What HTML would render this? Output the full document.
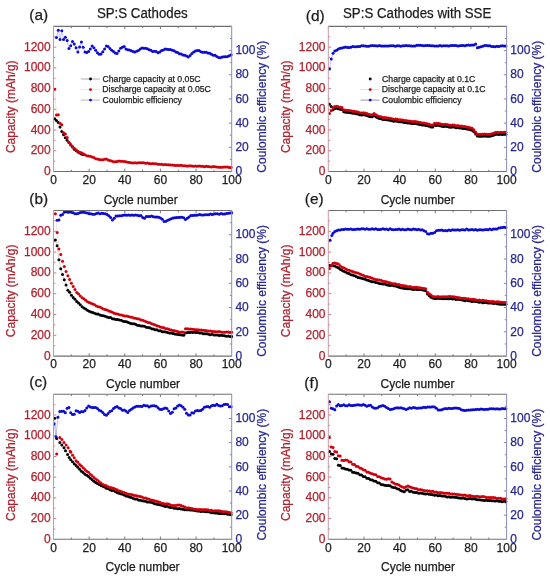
<!DOCTYPE html>
<html><head><meta charset="utf-8"><title>SP:S Cathodes</title>
<style>
html,body{margin:0;padding:0;background:#fff;}
svg{display:block;}
text{font-family:"Liberation Sans", Arial, sans-serif;stroke-width:0.25px;}
.tk{font-size:12px;}
.at{font-size:12px;}
</style></head><body>
<svg width="550" height="579" viewBox="0 0 550 579">
<rect width="550" height="579" fill="#fff"/>
<g fill="#1c1c1c">
<clipPath id="ca"><rect x="53.5" y="24.8" width="179.8" height="146.7"/></clipPath>
<path d="M71.32 171.5v-1.8M71.32 26.4v1.8M89.14 171.5v-2.8M89.14 26.4v2.8M106.96 171.5v-1.8M106.96 26.4v1.8M124.78 171.5v-2.8M124.78 26.4v2.8M142.6 171.5v-1.8M142.6 26.4v1.8M160.42 171.5v-2.8M160.42 26.4v2.8M178.24 171.5v-1.8M178.24 26.4v1.8M196.06 171.5v-2.8M196.06 26.4v2.8M213.88 171.5v-1.8M213.88 26.4v1.8" stroke="#555" stroke-width="0.8" fill="none"/>
<path d="M53.5 161.14h1.8M53.5 150.77h2.8M53.5 140.41h1.8M53.5 130.04h2.8M53.5 119.68h1.8M53.5 109.31h2.8M53.5 98.95h1.8M53.5 88.59h2.8M53.5 78.22h1.8M53.5 67.86h2.8M53.5 57.49h1.8M53.5 47.13h2.8M53.5 36.76h1.8" stroke="#b06070" stroke-width="0.8" fill="none"/>
<path d="M231.7 159.41h-1.8M231.7 147.32h-2.8M231.7 135.22h-1.8M231.7 123.13h-2.8M231.7 111.04h-1.8M231.7 98.95h-2.8M231.7 86.86h-1.8M231.7 74.77h-2.8M231.7 62.68h-1.8M231.7 50.58h-2.8M231.7 38.49h-1.8" stroke="#6060a8" stroke-width="0.8" fill="none"/>
<g clip-path="url(#ca)">
<polyline fill="none" stroke="#999" stroke-width="0.4" points="54.68,118.66 56.46,120.47 58.25,122.59 60.03,126.89 61.81,131.39 63.59,134.84 65.37,137.71 67.16,140.2 68.94,142.57 70.72,144.95 72.5,147.03 74.28,149.18 76.07,150.58 77.85,152.01 79.63,153.05 81.41,153.9 83.19,154.39"/>
<g fill="#000"><circle cx="54.68" cy="118.66" r="1.5"/><circle cx="56.46" cy="120.47" r="1.5"/><circle cx="58.25" cy="122.59" r="1.5"/><circle cx="60.03" cy="126.89" r="1.5"/><circle cx="61.81" cy="131.39" r="1.5"/><circle cx="63.59" cy="134.84" r="1.5"/><circle cx="65.37" cy="137.71" r="1.5"/><circle cx="67.16" cy="140.2" r="1.5"/><circle cx="68.94" cy="142.57" r="1.5"/><circle cx="70.72" cy="144.95" r="1.5"/><circle cx="72.5" cy="147.03" r="1.5"/><circle cx="74.28" cy="149.18" r="1.5"/><circle cx="76.07" cy="150.58" r="1.5"/><circle cx="77.85" cy="152.01" r="1.5"/><circle cx="79.63" cy="153.05" r="1.5"/><circle cx="81.41" cy="153.9" r="1.5"/><circle cx="83.19" cy="154.39" r="1.5"/></g>
<polyline fill="none" stroke="#f0b0b0" stroke-width="0.4" points="54.68,89.3 56.46,115.09 58.25,114.69 60.03,123.19 61.81,124.74 63.59,132.82 65.37,133.92 67.16,137.53 68.94,142.2 70.72,144.52 72.5,146.46 74.28,148.34 76.07,149.75 77.85,151.15 79.63,152.3 81.41,152.82 83.19,153.8 84.98,154.82 86.76,155.63 88.54,155.91 90.32,156.19 92.1,157.02 93.89,157.39 95.67,158.76 97.45,159.07 99.23,159.42 101.01,159.72 102.8,159.69 104.58,159.26 106.36,159.04 108.14,159.96 109.92,160.6 111.71,161.03 113.49,161.75 115.27,161.73 117.05,161.39 118.83,161.03 120.62,161.22 122.4,161.23 124.18,161.42 125.96,161.86 127.74,162.17 129.53,162.39 131.31,162.84 133.09,162.9 134.87,162.71 136.65,162.94 138.44,162.79 140.22,162.83 142,162.79 143.78,162.69 145.56,163.33 147.35,163.05 149.13,163.43 150.91,163.77 152.69,163.54 154.47,163.86 156.26,163.71 158.04,164.2 159.82,164.36 161.6,164.36 163.38,164.65 165.17,164.43 166.95,164.77 168.73,164.82 170.51,164.92 172.29,164.96 174.08,165.3 175.86,165.47 177.64,165.29 179.42,165.51 181.2,165.25 182.99,165.72 184.77,165.78 186.55,166.08 188.33,166.06 190.11,165.82 191.9,165.96 193.68,166.2 195.46,165.89 197.24,166.23 199.02,166.12 200.81,166.16 202.59,166.19 204.37,166.68 206.15,166.36 207.93,166.49 209.72,166.63 211.5,166.98 213.28,166.56 215.06,166.83 216.84,166.94 218.63,167.19 220.41,167.2 222.19,167.28 223.97,166.97 225.75,167.1 227.54,167.12 229.32,167.48 231.1,167.57"/>
<g fill="#d0000c"><circle cx="54.68" cy="89.3" r="1.5"/><circle cx="56.46" cy="115.09" r="1.5"/><circle cx="58.25" cy="114.69" r="1.5"/><circle cx="60.03" cy="123.19" r="1.5"/><circle cx="61.81" cy="124.74" r="1.5"/><circle cx="63.59" cy="132.82" r="1.5"/><circle cx="65.37" cy="133.92" r="1.5"/><circle cx="67.16" cy="137.53" r="1.5"/><circle cx="68.94" cy="142.2" r="1.5"/><circle cx="70.72" cy="144.52" r="1.5"/><circle cx="72.5" cy="146.46" r="1.5"/><circle cx="74.28" cy="148.34" r="1.5"/><circle cx="76.07" cy="149.75" r="1.5"/><circle cx="77.85" cy="151.15" r="1.5"/><circle cx="79.63" cy="152.3" r="1.5"/><circle cx="81.41" cy="152.82" r="1.5"/><circle cx="83.19" cy="153.8" r="1.5"/><circle cx="84.98" cy="154.82" r="1.5"/><circle cx="86.76" cy="155.63" r="1.5"/><circle cx="88.54" cy="155.91" r="1.5"/><circle cx="90.32" cy="156.19" r="1.5"/><circle cx="92.1" cy="157.02" r="1.5"/><circle cx="93.89" cy="157.39" r="1.5"/><circle cx="95.67" cy="158.76" r="1.5"/><circle cx="97.45" cy="159.07" r="1.5"/><circle cx="99.23" cy="159.42" r="1.5"/><circle cx="101.01" cy="159.72" r="1.5"/><circle cx="102.8" cy="159.69" r="1.5"/><circle cx="104.58" cy="159.26" r="1.5"/><circle cx="106.36" cy="159.04" r="1.5"/><circle cx="108.14" cy="159.96" r="1.5"/><circle cx="109.92" cy="160.6" r="1.5"/><circle cx="111.71" cy="161.03" r="1.5"/><circle cx="113.49" cy="161.75" r="1.5"/><circle cx="115.27" cy="161.73" r="1.5"/><circle cx="117.05" cy="161.39" r="1.5"/><circle cx="118.83" cy="161.03" r="1.5"/><circle cx="120.62" cy="161.22" r="1.5"/><circle cx="122.4" cy="161.23" r="1.5"/><circle cx="124.18" cy="161.42" r="1.5"/><circle cx="125.96" cy="161.86" r="1.5"/><circle cx="127.74" cy="162.17" r="1.5"/><circle cx="129.53" cy="162.39" r="1.5"/><circle cx="131.31" cy="162.84" r="1.5"/><circle cx="133.09" cy="162.9" r="1.5"/><circle cx="134.87" cy="162.71" r="1.5"/><circle cx="136.65" cy="162.94" r="1.5"/><circle cx="138.44" cy="162.79" r="1.5"/><circle cx="140.22" cy="162.83" r="1.5"/><circle cx="142" cy="162.79" r="1.5"/><circle cx="143.78" cy="162.69" r="1.5"/><circle cx="145.56" cy="163.33" r="1.5"/><circle cx="147.35" cy="163.05" r="1.5"/><circle cx="149.13" cy="163.43" r="1.5"/><circle cx="150.91" cy="163.77" r="1.5"/><circle cx="152.69" cy="163.54" r="1.5"/><circle cx="154.47" cy="163.86" r="1.5"/><circle cx="156.26" cy="163.71" r="1.5"/><circle cx="158.04" cy="164.2" r="1.5"/><circle cx="159.82" cy="164.36" r="1.5"/><circle cx="161.6" cy="164.36" r="1.5"/><circle cx="163.38" cy="164.65" r="1.5"/><circle cx="165.17" cy="164.43" r="1.5"/><circle cx="166.95" cy="164.77" r="1.5"/><circle cx="168.73" cy="164.82" r="1.5"/><circle cx="170.51" cy="164.92" r="1.5"/><circle cx="172.29" cy="164.96" r="1.5"/><circle cx="174.08" cy="165.3" r="1.5"/><circle cx="175.86" cy="165.47" r="1.5"/><circle cx="177.64" cy="165.29" r="1.5"/><circle cx="179.42" cy="165.51" r="1.5"/><circle cx="181.2" cy="165.25" r="1.5"/><circle cx="182.99" cy="165.72" r="1.5"/><circle cx="184.77" cy="165.78" r="1.5"/><circle cx="186.55" cy="166.08" r="1.5"/><circle cx="188.33" cy="166.06" r="1.5"/><circle cx="190.11" cy="165.82" r="1.5"/><circle cx="191.9" cy="165.96" r="1.5"/><circle cx="193.68" cy="166.2" r="1.5"/><circle cx="195.46" cy="165.89" r="1.5"/><circle cx="197.24" cy="166.23" r="1.5"/><circle cx="199.02" cy="166.12" r="1.5"/><circle cx="200.81" cy="166.16" r="1.5"/><circle cx="202.59" cy="166.19" r="1.5"/><circle cx="204.37" cy="166.68" r="1.5"/><circle cx="206.15" cy="166.36" r="1.5"/><circle cx="207.93" cy="166.49" r="1.5"/><circle cx="209.72" cy="166.63" r="1.5"/><circle cx="211.5" cy="166.98" r="1.5"/><circle cx="213.28" cy="166.56" r="1.5"/><circle cx="215.06" cy="166.83" r="1.5"/><circle cx="216.84" cy="166.94" r="1.5"/><circle cx="218.63" cy="167.19" r="1.5"/><circle cx="220.41" cy="167.2" r="1.5"/><circle cx="222.19" cy="167.28" r="1.5"/><circle cx="223.97" cy="166.97" r="1.5"/><circle cx="225.75" cy="167.1" r="1.5"/><circle cx="227.54" cy="167.12" r="1.5"/><circle cx="229.32" cy="167.48" r="1.5"/><circle cx="231.1" cy="167.57" r="1.5"/></g>
<polyline fill="none" stroke="#7070d0" stroke-width="0.4" points="56.46,37.4 58.25,30.2 60.03,39.5 61.81,30.8 63.59,39.5 65.37,37.2 67.16,40.4 68.94,48.4 70.72,45.7 72.5,41.4 74.28,43.9 76.07,47.7 77.85,52.1 79.63,47 81.41,42.1 83.19,47.2 84.98,51.9 86.76,52.6 88.54,51.5 90.32,49 92.1,46.09 93.89,47.75 95.67,50.19 97.45,52.69 99.23,54.37 101.01,53.91 102.8,51.74 104.58,49.06 106.36,45.88 108.14,46.6 109.92,48.45 111.71,50.17 113.49,51.46 115.27,52.98 117.05,53.6 118.83,50.97 120.62,48.28 122.4,47.32 124.18,46.58 125.96,49.12 127.74,49.83 129.53,50.01 131.31,50.74 133.09,51.38 134.87,52 136.65,51.37 138.44,50.43 140.22,48.88 142,47.9 143.78,48.22 145.56,48.24 147.35,48.8 149.13,49.63 150.91,50.21 152.69,51.55 154.47,51.23 156.26,51.45 158.04,52.82 159.82,52.02 161.6,50.39 163.38,50.05 165.17,49 166.95,49.26 168.73,49.6 170.51,49.57 172.29,50.2 174.08,50.87 175.86,52.04 177.64,52.47 179.42,53.77 181.2,54.03 182.99,54.94 184.77,55.27 186.55,55.96 188.33,56.94 190.11,55.53 191.9,53.49 193.68,51.93 195.46,50.91 197.24,50.41 199.02,50.4 200.81,51.72 202.59,52.19 204.37,52.13 206.15,52.37 207.93,52.95 209.72,53.31 211.5,54.37 213.28,55.31 215.06,55.33 216.84,56.59 218.63,57.4 220.41,57.82 222.19,57.12 223.97,56.86 225.75,56.7 227.54,56.41 229.32,55.71 231.1,54.65"/>
<g fill="#0c0cd0"><circle cx="56.46" cy="37.4" r="1.5"/><circle cx="58.25" cy="30.2" r="1.5"/><circle cx="60.03" cy="39.5" r="1.5"/><circle cx="61.81" cy="30.8" r="1.5"/><circle cx="63.59" cy="39.5" r="1.5"/><circle cx="65.37" cy="37.2" r="1.5"/><circle cx="67.16" cy="40.4" r="1.5"/><circle cx="68.94" cy="48.4" r="1.5"/><circle cx="70.72" cy="45.7" r="1.5"/><circle cx="72.5" cy="41.4" r="1.5"/><circle cx="74.28" cy="43.9" r="1.5"/><circle cx="76.07" cy="47.7" r="1.5"/><circle cx="77.85" cy="52.1" r="1.5"/><circle cx="79.63" cy="47" r="1.5"/><circle cx="81.41" cy="42.1" r="1.5"/><circle cx="83.19" cy="47.2" r="1.5"/><circle cx="84.98" cy="51.9" r="1.5"/><circle cx="86.76" cy="52.6" r="1.5"/><circle cx="88.54" cy="51.5" r="1.5"/><circle cx="90.32" cy="49" r="1.5"/><circle cx="92.1" cy="46.09" r="1.5"/><circle cx="93.89" cy="47.75" r="1.5"/><circle cx="95.67" cy="50.19" r="1.5"/><circle cx="97.45" cy="52.69" r="1.5"/><circle cx="99.23" cy="54.37" r="1.5"/><circle cx="101.01" cy="53.91" r="1.5"/><circle cx="102.8" cy="51.74" r="1.5"/><circle cx="104.58" cy="49.06" r="1.5"/><circle cx="106.36" cy="45.88" r="1.5"/><circle cx="108.14" cy="46.6" r="1.5"/><circle cx="109.92" cy="48.45" r="1.5"/><circle cx="111.71" cy="50.17" r="1.5"/><circle cx="113.49" cy="51.46" r="1.5"/><circle cx="115.27" cy="52.98" r="1.5"/><circle cx="117.05" cy="53.6" r="1.5"/><circle cx="118.83" cy="50.97" r="1.5"/><circle cx="120.62" cy="48.28" r="1.5"/><circle cx="122.4" cy="47.32" r="1.5"/><circle cx="124.18" cy="46.58" r="1.5"/><circle cx="125.96" cy="49.12" r="1.5"/><circle cx="127.74" cy="49.83" r="1.5"/><circle cx="129.53" cy="50.01" r="1.5"/><circle cx="131.31" cy="50.74" r="1.5"/><circle cx="133.09" cy="51.38" r="1.5"/><circle cx="134.87" cy="52" r="1.5"/><circle cx="136.65" cy="51.37" r="1.5"/><circle cx="138.44" cy="50.43" r="1.5"/><circle cx="140.22" cy="48.88" r="1.5"/><circle cx="142" cy="47.9" r="1.5"/><circle cx="143.78" cy="48.22" r="1.5"/><circle cx="145.56" cy="48.24" r="1.5"/><circle cx="147.35" cy="48.8" r="1.5"/><circle cx="149.13" cy="49.63" r="1.5"/><circle cx="150.91" cy="50.21" r="1.5"/><circle cx="152.69" cy="51.55" r="1.5"/><circle cx="154.47" cy="51.23" r="1.5"/><circle cx="156.26" cy="51.45" r="1.5"/><circle cx="158.04" cy="52.82" r="1.5"/><circle cx="159.82" cy="52.02" r="1.5"/><circle cx="161.6" cy="50.39" r="1.5"/><circle cx="163.38" cy="50.05" r="1.5"/><circle cx="165.17" cy="49" r="1.5"/><circle cx="166.95" cy="49.26" r="1.5"/><circle cx="168.73" cy="49.6" r="1.5"/><circle cx="170.51" cy="49.57" r="1.5"/><circle cx="172.29" cy="50.2" r="1.5"/><circle cx="174.08" cy="50.87" r="1.5"/><circle cx="175.86" cy="52.04" r="1.5"/><circle cx="177.64" cy="52.47" r="1.5"/><circle cx="179.42" cy="53.77" r="1.5"/><circle cx="181.2" cy="54.03" r="1.5"/><circle cx="182.99" cy="54.94" r="1.5"/><circle cx="184.77" cy="55.27" r="1.5"/><circle cx="186.55" cy="55.96" r="1.5"/><circle cx="188.33" cy="56.94" r="1.5"/><circle cx="190.11" cy="55.53" r="1.5"/><circle cx="191.9" cy="53.49" r="1.5"/><circle cx="193.68" cy="51.93" r="1.5"/><circle cx="195.46" cy="50.91" r="1.5"/><circle cx="197.24" cy="50.41" r="1.5"/><circle cx="199.02" cy="50.4" r="1.5"/><circle cx="200.81" cy="51.72" r="1.5"/><circle cx="202.59" cy="52.19" r="1.5"/><circle cx="204.37" cy="52.13" r="1.5"/><circle cx="206.15" cy="52.37" r="1.5"/><circle cx="207.93" cy="52.95" r="1.5"/><circle cx="209.72" cy="53.31" r="1.5"/><circle cx="211.5" cy="54.37" r="1.5"/><circle cx="213.28" cy="55.31" r="1.5"/><circle cx="215.06" cy="55.33" r="1.5"/><circle cx="216.84" cy="56.59" r="1.5"/><circle cx="218.63" cy="57.4" r="1.5"/><circle cx="220.41" cy="57.82" r="1.5"/><circle cx="222.19" cy="57.12" r="1.5"/><circle cx="223.97" cy="56.86" r="1.5"/><circle cx="225.75" cy="56.7" r="1.5"/><circle cx="227.54" cy="56.41" r="1.5"/><circle cx="229.32" cy="55.71" r="1.5"/><circle cx="231.1" cy="54.65" r="1.5"/></g>
</g>
<path d="M53.5 26.4H231.7 M53.5 171.5H231.7" stroke="#707070" stroke-width="1.1" fill="none"/>
<path d="M53.5 25.9V172" stroke="#c898a4" stroke-width="1" fill="none"/>
<path d="M231.7 25.9V172" stroke="#8c8cba" stroke-width="1" fill="none"/>
<text x="53.5" y="183.8" text-anchor="middle" class="tk" stroke="#1c1c1c">0</text>
<text x="89.14" y="183.8" text-anchor="middle" class="tk" stroke="#1c1c1c">20</text>
<text x="124.78" y="183.8" text-anchor="middle" class="tk" stroke="#1c1c1c">40</text>
<text x="160.42" y="183.8" text-anchor="middle" class="tk" stroke="#1c1c1c">60</text>
<text x="196.06" y="183.8" text-anchor="middle" class="tk" stroke="#1c1c1c">80</text>
<text x="231.7" y="183.8" text-anchor="middle" class="tk" stroke="#1c1c1c">100</text>
<text x="50.7" y="175" text-anchor="end" class="tk" fill="#b0222e" stroke="#b0222e">0</text>
<text x="50.7" y="154.27" text-anchor="end" class="tk" fill="#b0222e" stroke="#b0222e">200</text>
<text x="50.7" y="133.54" text-anchor="end" class="tk" fill="#b0222e" stroke="#b0222e">400</text>
<text x="50.7" y="112.81" text-anchor="end" class="tk" fill="#b0222e" stroke="#b0222e">600</text>
<text x="50.7" y="92.09" text-anchor="end" class="tk" fill="#b0222e" stroke="#b0222e">800</text>
<text x="50.7" y="71.36" text-anchor="end" class="tk" fill="#b0222e" stroke="#b0222e">1000</text>
<text x="50.7" y="50.63" text-anchor="end" class="tk" fill="#b0222e" stroke="#b0222e">1200</text>
<text x="235.4" y="175.2" class="tk" fill="#262690" stroke="#262690">0</text>
<text x="235.4" y="151.02" class="tk" fill="#262690" stroke="#262690">20</text>
<text x="235.4" y="126.83" class="tk" fill="#262690" stroke="#262690">40</text>
<text x="235.4" y="102.65" class="tk" fill="#262690" stroke="#262690">60</text>
<text x="235.4" y="78.47" class="tk" fill="#262690" stroke="#262690">80</text>
<text x="235.4" y="54.28" class="tk" fill="#262690" stroke="#262690">100</text>
<text transform="translate(15 153.1) rotate(-90)" class="at" fill="#b0222e" stroke="#b0222e">Capacity (mAh/g)</text>
<text transform="translate(266.1 172.7) rotate(-90)" class="at" fill="#262690" stroke="#262690">Coulombic efficiency (%)</text>
<text x="103.69" y="203.6" class="at" stroke="#1c1c1c">Cycle number</text>
<clipPath id="cb"><rect x="53.5" y="208.9" width="179.8" height="147.2"/></clipPath>
<path d="M71.32 356.1v-1.8M71.32 210.5v1.8M89.14 356.1v-2.8M89.14 210.5v2.8M106.96 356.1v-1.8M106.96 210.5v1.8M124.78 356.1v-2.8M124.78 210.5v2.8M142.6 356.1v-1.8M142.6 210.5v1.8M160.42 356.1v-2.8M160.42 210.5v2.8M178.24 356.1v-1.8M178.24 210.5v1.8M196.06 356.1v-2.8M196.06 210.5v2.8M213.88 356.1v-1.8M213.88 210.5v1.8" stroke="#555" stroke-width="0.8" fill="none"/>
<path d="M53.5 345.7h1.8M53.5 335.3h2.8M53.5 324.9h1.8M53.5 314.5h2.8M53.5 304.1h1.8M53.5 293.7h2.8M53.5 283.3h1.8M53.5 272.9h2.8M53.5 262.5h1.8M53.5 252.1h2.8M53.5 241.7h1.8M53.5 231.3h2.8M53.5 220.9h1.8" stroke="#b06070" stroke-width="0.8" fill="none"/>
<path d="M231.7 343.97h-1.8M231.7 331.83h-2.8M231.7 319.7h-1.8M231.7 307.57h-2.8M231.7 295.43h-1.8M231.7 283.3h-2.8M231.7 271.17h-1.8M231.7 259.03h-2.8M231.7 246.9h-1.8M231.7 234.77h-2.8M231.7 222.63h-1.8" stroke="#6060a8" stroke-width="0.8" fill="none"/>
<g clip-path="url(#cb)">
<polyline fill="none" stroke="#999" stroke-width="0.4" points="55.38,240.04 57.16,245.64 58.95,259.8 60.73,268.87 62.51,274.54 64.29,279.79 66.07,285.03 67.86,290.2 69.64,292.29 71.42,295.23 73.2,297.53 74.98,299.16 76.77,301.55 78.55,303.07 80.33,304.83 82.11,306.65 83.89,308.01 85.68,308.96 87.46,310.31 89.24,311.33 91.02,312 92.8,312.57 94.59,313.22 96.37,314 98.15,314.1 99.93,314.95 101.71,315.41 103.5,315.66 105.28,316.35 107.06,317 108.84,317.41 110.62,317.62 112.41,318.64 114.19,318.97 115.97,319.53 117.75,319.46 119.53,320.01 121.32,320.34 123.1,321.26 124.88,321.44 126.66,321.85 128.44,322.51 130.23,323.28 132.01,323.7 133.79,323.83 135.57,324.23 137.35,325.16 139.14,325.4 140.92,325.92 142.7,325.98 144.48,326.37 146.26,327.16 148.05,327.43 149.83,327.67 151.61,328.69 153.39,329.06 155.17,329.74 156.96,329.87 158.74,330.86 160.52,330.84 162.3,331.71 164.08,331.83 165.87,332.1 167.65,332.56 169.43,333.12 171.21,333.09 172.99,333.38 174.78,333.99 176.56,334.18 178.34,334.45 180.12,334.8 181.9,335.08 183.69,335.16 185.47,332.97 187.25,332.54 189.03,332.59 190.81,332.28 192.6,332.46 194.38,332.37 196.16,332.62 197.94,332.61 199.72,332.96 201.51,333.05 203.29,333.72 205.07,333.84 206.85,333.85 208.63,334.23 210.42,334.69 212.2,334.36 213.98,334.96 215.76,334.89 217.54,335.1 219.33,335.47 221.11,335.36 222.89,335.6 224.67,335.87 226.45,336.21 228.24,335.99 230.02,336.44 231.8,336.52"/>
<g fill="#000"><circle cx="55.38" cy="240.04" r="1.5"/><circle cx="57.16" cy="245.64" r="1.5"/><circle cx="58.95" cy="259.8" r="1.5"/><circle cx="60.73" cy="268.87" r="1.5"/><circle cx="62.51" cy="274.54" r="1.5"/><circle cx="64.29" cy="279.79" r="1.5"/><circle cx="66.07" cy="285.03" r="1.5"/><circle cx="67.86" cy="290.2" r="1.5"/><circle cx="69.64" cy="292.29" r="1.5"/><circle cx="71.42" cy="295.23" r="1.5"/><circle cx="73.2" cy="297.53" r="1.5"/><circle cx="74.98" cy="299.16" r="1.5"/><circle cx="76.77" cy="301.55" r="1.5"/><circle cx="78.55" cy="303.07" r="1.5"/><circle cx="80.33" cy="304.83" r="1.5"/><circle cx="82.11" cy="306.65" r="1.5"/><circle cx="83.89" cy="308.01" r="1.5"/><circle cx="85.68" cy="308.96" r="1.5"/><circle cx="87.46" cy="310.31" r="1.5"/><circle cx="89.24" cy="311.33" r="1.5"/><circle cx="91.02" cy="312" r="1.5"/><circle cx="92.8" cy="312.57" r="1.5"/><circle cx="94.59" cy="313.22" r="1.5"/><circle cx="96.37" cy="314" r="1.5"/><circle cx="98.15" cy="314.1" r="1.5"/><circle cx="99.93" cy="314.95" r="1.5"/><circle cx="101.71" cy="315.41" r="1.5"/><circle cx="103.5" cy="315.66" r="1.5"/><circle cx="105.28" cy="316.35" r="1.5"/><circle cx="107.06" cy="317" r="1.5"/><circle cx="108.84" cy="317.41" r="1.5"/><circle cx="110.62" cy="317.62" r="1.5"/><circle cx="112.41" cy="318.64" r="1.5"/><circle cx="114.19" cy="318.97" r="1.5"/><circle cx="115.97" cy="319.53" r="1.5"/><circle cx="117.75" cy="319.46" r="1.5"/><circle cx="119.53" cy="320.01" r="1.5"/><circle cx="121.32" cy="320.34" r="1.5"/><circle cx="123.1" cy="321.26" r="1.5"/><circle cx="124.88" cy="321.44" r="1.5"/><circle cx="126.66" cy="321.85" r="1.5"/><circle cx="128.44" cy="322.51" r="1.5"/><circle cx="130.23" cy="323.28" r="1.5"/><circle cx="132.01" cy="323.7" r="1.5"/><circle cx="133.79" cy="323.83" r="1.5"/><circle cx="135.57" cy="324.23" r="1.5"/><circle cx="137.35" cy="325.16" r="1.5"/><circle cx="139.14" cy="325.4" r="1.5"/><circle cx="140.92" cy="325.92" r="1.5"/><circle cx="142.7" cy="325.98" r="1.5"/><circle cx="144.48" cy="326.37" r="1.5"/><circle cx="146.26" cy="327.16" r="1.5"/><circle cx="148.05" cy="327.43" r="1.5"/><circle cx="149.83" cy="327.67" r="1.5"/><circle cx="151.61" cy="328.69" r="1.5"/><circle cx="153.39" cy="329.06" r="1.5"/><circle cx="155.17" cy="329.74" r="1.5"/><circle cx="156.96" cy="329.87" r="1.5"/><circle cx="158.74" cy="330.86" r="1.5"/><circle cx="160.52" cy="330.84" r="1.5"/><circle cx="162.3" cy="331.71" r="1.5"/><circle cx="164.08" cy="331.83" r="1.5"/><circle cx="165.87" cy="332.1" r="1.5"/><circle cx="167.65" cy="332.56" r="1.5"/><circle cx="169.43" cy="333.12" r="1.5"/><circle cx="171.21" cy="333.09" r="1.5"/><circle cx="172.99" cy="333.38" r="1.5"/><circle cx="174.78" cy="333.99" r="1.5"/><circle cx="176.56" cy="334.18" r="1.5"/><circle cx="178.34" cy="334.45" r="1.5"/><circle cx="180.12" cy="334.8" r="1.5"/><circle cx="181.9" cy="335.08" r="1.5"/><circle cx="183.69" cy="335.16" r="1.5"/><circle cx="185.47" cy="332.97" r="1.5"/><circle cx="187.25" cy="332.54" r="1.5"/><circle cx="189.03" cy="332.59" r="1.5"/><circle cx="190.81" cy="332.28" r="1.5"/><circle cx="192.6" cy="332.46" r="1.5"/><circle cx="194.38" cy="332.37" r="1.5"/><circle cx="196.16" cy="332.62" r="1.5"/><circle cx="197.94" cy="332.61" r="1.5"/><circle cx="199.72" cy="332.96" r="1.5"/><circle cx="201.51" cy="333.05" r="1.5"/><circle cx="203.29" cy="333.72" r="1.5"/><circle cx="205.07" cy="333.84" r="1.5"/><circle cx="206.85" cy="333.85" r="1.5"/><circle cx="208.63" cy="334.23" r="1.5"/><circle cx="210.42" cy="334.69" r="1.5"/><circle cx="212.2" cy="334.36" r="1.5"/><circle cx="213.98" cy="334.96" r="1.5"/><circle cx="215.76" cy="334.89" r="1.5"/><circle cx="217.54" cy="335.1" r="1.5"/><circle cx="219.33" cy="335.47" r="1.5"/><circle cx="221.11" cy="335.36" r="1.5"/><circle cx="222.89" cy="335.6" r="1.5"/><circle cx="224.67" cy="335.87" r="1.5"/><circle cx="226.45" cy="336.21" r="1.5"/><circle cx="228.24" cy="335.99" r="1.5"/><circle cx="230.02" cy="336.44" r="1.5"/><circle cx="231.8" cy="336.52" r="1.5"/></g>
<polyline fill="none" stroke="#f0b0b0" stroke-width="0.4" points="55.38,213.64 57.16,232.6 58.95,248.89 60.73,254.59 62.51,261.18 64.29,266.55 66.07,271.6 67.86,275.85 69.64,279.47 71.42,283.15 73.2,286.49 74.98,289.5 76.77,292.45 78.55,294.1 80.33,296.02 82.11,297.67 83.89,298.82 85.68,300.2 87.46,301.72 89.24,302.59 91.02,303.13 92.8,303.91 94.59,304.72 96.37,305.95 98.15,306.64 99.93,306.98 101.71,308.11 103.5,308.94 105.28,309.5 107.06,310.11 108.84,311.03 110.62,311.56 112.41,312.19 114.19,313.37 115.97,313.7 117.75,314.1 119.53,314.78 121.32,314.89 123.1,315.58 124.88,315.98 126.66,316.02 128.44,316.46 130.23,316.91 132.01,317.31 133.79,317.96 135.57,318.22 137.35,318.78 139.14,319.1 140.92,320.09 142.7,320.32 144.48,320.97 146.26,321.66 148.05,322.49 149.83,322.85 151.61,323.84 153.39,324.33 155.17,325.12 156.96,325.86 158.74,326.25 160.52,327.09 162.3,327.46 164.08,327.83 165.87,328.75 167.65,328.81 169.43,329.42 171.21,330.02 172.99,330.38 174.78,330.7 176.56,331.26 178.34,331.69 180.12,332.17 181.9,332.11 183.69,332.33 185.47,328.65 187.25,328.71 189.03,329.1 190.81,329.05 192.6,329.2 194.38,329.48 196.16,329.74 197.94,329.65 199.72,329.95 201.51,330.09 203.29,330.3 205.07,330.61 206.85,330.66 208.63,330.89 210.42,331.01 212.2,331.44 213.98,331.44 215.76,331.68 217.54,331.85 219.33,331.57 221.11,331.88 222.89,332.24 224.67,332.3 226.45,332 228.24,332.12 230.02,332.44 231.8,332.34"/>
<g fill="#d0000c"><circle cx="55.38" cy="213.64" r="1.5"/><circle cx="57.16" cy="232.6" r="1.5"/><circle cx="58.95" cy="248.89" r="1.5"/><circle cx="60.73" cy="254.59" r="1.5"/><circle cx="62.51" cy="261.18" r="1.5"/><circle cx="64.29" cy="266.55" r="1.5"/><circle cx="66.07" cy="271.6" r="1.5"/><circle cx="67.86" cy="275.85" r="1.5"/><circle cx="69.64" cy="279.47" r="1.5"/><circle cx="71.42" cy="283.15" r="1.5"/><circle cx="73.2" cy="286.49" r="1.5"/><circle cx="74.98" cy="289.5" r="1.5"/><circle cx="76.77" cy="292.45" r="1.5"/><circle cx="78.55" cy="294.1" r="1.5"/><circle cx="80.33" cy="296.02" r="1.5"/><circle cx="82.11" cy="297.67" r="1.5"/><circle cx="83.89" cy="298.82" r="1.5"/><circle cx="85.68" cy="300.2" r="1.5"/><circle cx="87.46" cy="301.72" r="1.5"/><circle cx="89.24" cy="302.59" r="1.5"/><circle cx="91.02" cy="303.13" r="1.5"/><circle cx="92.8" cy="303.91" r="1.5"/><circle cx="94.59" cy="304.72" r="1.5"/><circle cx="96.37" cy="305.95" r="1.5"/><circle cx="98.15" cy="306.64" r="1.5"/><circle cx="99.93" cy="306.98" r="1.5"/><circle cx="101.71" cy="308.11" r="1.5"/><circle cx="103.5" cy="308.94" r="1.5"/><circle cx="105.28" cy="309.5" r="1.5"/><circle cx="107.06" cy="310.11" r="1.5"/><circle cx="108.84" cy="311.03" r="1.5"/><circle cx="110.62" cy="311.56" r="1.5"/><circle cx="112.41" cy="312.19" r="1.5"/><circle cx="114.19" cy="313.37" r="1.5"/><circle cx="115.97" cy="313.7" r="1.5"/><circle cx="117.75" cy="314.1" r="1.5"/><circle cx="119.53" cy="314.78" r="1.5"/><circle cx="121.32" cy="314.89" r="1.5"/><circle cx="123.1" cy="315.58" r="1.5"/><circle cx="124.88" cy="315.98" r="1.5"/><circle cx="126.66" cy="316.02" r="1.5"/><circle cx="128.44" cy="316.46" r="1.5"/><circle cx="130.23" cy="316.91" r="1.5"/><circle cx="132.01" cy="317.31" r="1.5"/><circle cx="133.79" cy="317.96" r="1.5"/><circle cx="135.57" cy="318.22" r="1.5"/><circle cx="137.35" cy="318.78" r="1.5"/><circle cx="139.14" cy="319.1" r="1.5"/><circle cx="140.92" cy="320.09" r="1.5"/><circle cx="142.7" cy="320.32" r="1.5"/><circle cx="144.48" cy="320.97" r="1.5"/><circle cx="146.26" cy="321.66" r="1.5"/><circle cx="148.05" cy="322.49" r="1.5"/><circle cx="149.83" cy="322.85" r="1.5"/><circle cx="151.61" cy="323.84" r="1.5"/><circle cx="153.39" cy="324.33" r="1.5"/><circle cx="155.17" cy="325.12" r="1.5"/><circle cx="156.96" cy="325.86" r="1.5"/><circle cx="158.74" cy="326.25" r="1.5"/><circle cx="160.52" cy="327.09" r="1.5"/><circle cx="162.3" cy="327.46" r="1.5"/><circle cx="164.08" cy="327.83" r="1.5"/><circle cx="165.87" cy="328.75" r="1.5"/><circle cx="167.65" cy="328.81" r="1.5"/><circle cx="169.43" cy="329.42" r="1.5"/><circle cx="171.21" cy="330.02" r="1.5"/><circle cx="172.99" cy="330.38" r="1.5"/><circle cx="174.78" cy="330.7" r="1.5"/><circle cx="176.56" cy="331.26" r="1.5"/><circle cx="178.34" cy="331.69" r="1.5"/><circle cx="180.12" cy="332.17" r="1.5"/><circle cx="181.9" cy="332.11" r="1.5"/><circle cx="183.69" cy="332.33" r="1.5"/><circle cx="185.47" cy="328.65" r="1.5"/><circle cx="187.25" cy="328.71" r="1.5"/><circle cx="189.03" cy="329.1" r="1.5"/><circle cx="190.81" cy="329.05" r="1.5"/><circle cx="192.6" cy="329.2" r="1.5"/><circle cx="194.38" cy="329.48" r="1.5"/><circle cx="196.16" cy="329.74" r="1.5"/><circle cx="197.94" cy="329.65" r="1.5"/><circle cx="199.72" cy="329.95" r="1.5"/><circle cx="201.51" cy="330.09" r="1.5"/><circle cx="203.29" cy="330.3" r="1.5"/><circle cx="205.07" cy="330.61" r="1.5"/><circle cx="206.85" cy="330.66" r="1.5"/><circle cx="208.63" cy="330.89" r="1.5"/><circle cx="210.42" cy="331.01" r="1.5"/><circle cx="212.2" cy="331.44" r="1.5"/><circle cx="213.98" cy="331.44" r="1.5"/><circle cx="215.76" cy="331.68" r="1.5"/><circle cx="217.54" cy="331.85" r="1.5"/><circle cx="219.33" cy="331.57" r="1.5"/><circle cx="221.11" cy="331.88" r="1.5"/><circle cx="222.89" cy="332.24" r="1.5"/><circle cx="224.67" cy="332.3" r="1.5"/><circle cx="226.45" cy="332" r="1.5"/><circle cx="228.24" cy="332.12" r="1.5"/><circle cx="230.02" cy="332.44" r="1.5"/><circle cx="231.8" cy="332.34" r="1.5"/></g>
<polyline fill="none" stroke="#7070d0" stroke-width="0.4" points="57.16,220.14 58.95,219.9 60.73,215.35 62.51,214.55 64.29,212.13 66.07,211.71 67.86,212.24 69.64,211.91 71.42,212.26 73.2,212.66 74.98,213.72 76.77,213.69 78.55,213.19 80.33,212.45 82.11,212.17 83.89,212.27 85.68,212.81 87.46,213.02 89.24,213.76 91.02,213.76 92.8,214.36 94.59,214.15 96.37,213.47 98.15,212.98 99.93,213.68 101.71,213.19 103.5,213.55 105.28,213.64 107.06,214.57 108.84,215.63 110.62,217.56 112.41,220.09 114.19,218.29 115.97,215.94 117.75,215.99 119.53,215.63 121.32,215.76 123.1,215.24 124.88,215.07 126.66,215.18 128.44,214.93 130.23,215.13 132.01,214.97 133.79,215.15 135.57,215.1 137.35,215.29 139.14,215.68 140.92,215.53 142.7,217.57 144.48,218.17 146.26,216.42 148.05,216.52 149.83,216.47 151.61,215.92 153.39,216.81 155.17,216.99 156.96,216.88 158.74,217.28 160.52,218.05 162.3,219.35 164.08,221.44 165.87,221.13 167.65,220.37 169.43,219.42 171.21,218.79 172.99,217.95 174.78,217.83 176.56,217.48 178.34,217.55 180.12,217.23 181.9,217.26 183.69,217.75 185.47,219.52 187.25,218.35 189.03,216.96 190.81,215.61 192.6,215.47 194.38,215.32 196.16,215.26 197.94,214.99 199.72,214.41 201.51,215.12 203.29,214.99 205.07,214.68 206.85,214.64 208.63,214.69 210.42,214.02 212.2,214.6 213.98,214.03 215.76,213.75 217.54,213.84 219.33,214.2 221.11,213.57 222.89,214 224.67,214.11 226.45,213.49 228.24,213.19 230.02,212.96 231.8,212.78"/>
<g fill="#0c0cd0"><circle cx="57.16" cy="220.14" r="1.5"/><circle cx="58.95" cy="219.9" r="1.5"/><circle cx="60.73" cy="215.35" r="1.5"/><circle cx="62.51" cy="214.55" r="1.5"/><circle cx="64.29" cy="212.13" r="1.5"/><circle cx="66.07" cy="211.71" r="1.5"/><circle cx="67.86" cy="212.24" r="1.5"/><circle cx="69.64" cy="211.91" r="1.5"/><circle cx="71.42" cy="212.26" r="1.5"/><circle cx="73.2" cy="212.66" r="1.5"/><circle cx="74.98" cy="213.72" r="1.5"/><circle cx="76.77" cy="213.69" r="1.5"/><circle cx="78.55" cy="213.19" r="1.5"/><circle cx="80.33" cy="212.45" r="1.5"/><circle cx="82.11" cy="212.17" r="1.5"/><circle cx="83.89" cy="212.27" r="1.5"/><circle cx="85.68" cy="212.81" r="1.5"/><circle cx="87.46" cy="213.02" r="1.5"/><circle cx="89.24" cy="213.76" r="1.5"/><circle cx="91.02" cy="213.76" r="1.5"/><circle cx="92.8" cy="214.36" r="1.5"/><circle cx="94.59" cy="214.15" r="1.5"/><circle cx="96.37" cy="213.47" r="1.5"/><circle cx="98.15" cy="212.98" r="1.5"/><circle cx="99.93" cy="213.68" r="1.5"/><circle cx="101.71" cy="213.19" r="1.5"/><circle cx="103.5" cy="213.55" r="1.5"/><circle cx="105.28" cy="213.64" r="1.5"/><circle cx="107.06" cy="214.57" r="1.5"/><circle cx="108.84" cy="215.63" r="1.5"/><circle cx="110.62" cy="217.56" r="1.5"/><circle cx="112.41" cy="220.09" r="1.5"/><circle cx="114.19" cy="218.29" r="1.5"/><circle cx="115.97" cy="215.94" r="1.5"/><circle cx="117.75" cy="215.99" r="1.5"/><circle cx="119.53" cy="215.63" r="1.5"/><circle cx="121.32" cy="215.76" r="1.5"/><circle cx="123.1" cy="215.24" r="1.5"/><circle cx="124.88" cy="215.07" r="1.5"/><circle cx="126.66" cy="215.18" r="1.5"/><circle cx="128.44" cy="214.93" r="1.5"/><circle cx="130.23" cy="215.13" r="1.5"/><circle cx="132.01" cy="214.97" r="1.5"/><circle cx="133.79" cy="215.15" r="1.5"/><circle cx="135.57" cy="215.1" r="1.5"/><circle cx="137.35" cy="215.29" r="1.5"/><circle cx="139.14" cy="215.68" r="1.5"/><circle cx="140.92" cy="215.53" r="1.5"/><circle cx="142.7" cy="217.57" r="1.5"/><circle cx="144.48" cy="218.17" r="1.5"/><circle cx="146.26" cy="216.42" r="1.5"/><circle cx="148.05" cy="216.52" r="1.5"/><circle cx="149.83" cy="216.47" r="1.5"/><circle cx="151.61" cy="215.92" r="1.5"/><circle cx="153.39" cy="216.81" r="1.5"/><circle cx="155.17" cy="216.99" r="1.5"/><circle cx="156.96" cy="216.88" r="1.5"/><circle cx="158.74" cy="217.28" r="1.5"/><circle cx="160.52" cy="218.05" r="1.5"/><circle cx="162.3" cy="219.35" r="1.5"/><circle cx="164.08" cy="221.44" r="1.5"/><circle cx="165.87" cy="221.13" r="1.5"/><circle cx="167.65" cy="220.37" r="1.5"/><circle cx="169.43" cy="219.42" r="1.5"/><circle cx="171.21" cy="218.79" r="1.5"/><circle cx="172.99" cy="217.95" r="1.5"/><circle cx="174.78" cy="217.83" r="1.5"/><circle cx="176.56" cy="217.48" r="1.5"/><circle cx="178.34" cy="217.55" r="1.5"/><circle cx="180.12" cy="217.23" r="1.5"/><circle cx="181.9" cy="217.26" r="1.5"/><circle cx="183.69" cy="217.75" r="1.5"/><circle cx="185.47" cy="219.52" r="1.5"/><circle cx="187.25" cy="218.35" r="1.5"/><circle cx="189.03" cy="216.96" r="1.5"/><circle cx="190.81" cy="215.61" r="1.5"/><circle cx="192.6" cy="215.47" r="1.5"/><circle cx="194.38" cy="215.32" r="1.5"/><circle cx="196.16" cy="215.26" r="1.5"/><circle cx="197.94" cy="214.99" r="1.5"/><circle cx="199.72" cy="214.41" r="1.5"/><circle cx="201.51" cy="215.12" r="1.5"/><circle cx="203.29" cy="214.99" r="1.5"/><circle cx="205.07" cy="214.68" r="1.5"/><circle cx="206.85" cy="214.64" r="1.5"/><circle cx="208.63" cy="214.69" r="1.5"/><circle cx="210.42" cy="214.02" r="1.5"/><circle cx="212.2" cy="214.6" r="1.5"/><circle cx="213.98" cy="214.03" r="1.5"/><circle cx="215.76" cy="213.75" r="1.5"/><circle cx="217.54" cy="213.84" r="1.5"/><circle cx="219.33" cy="214.2" r="1.5"/><circle cx="221.11" cy="213.57" r="1.5"/><circle cx="222.89" cy="214" r="1.5"/><circle cx="224.67" cy="214.11" r="1.5"/><circle cx="226.45" cy="213.49" r="1.5"/><circle cx="228.24" cy="213.19" r="1.5"/><circle cx="230.02" cy="212.96" r="1.5"/><circle cx="231.8" cy="212.78" r="1.5"/></g>
</g>
<path d="M53.5 210.5H231.7 M53.5 356.1H231.7" stroke="#707070" stroke-width="1.1" fill="none"/>
<path d="M53.5 210V356.6" stroke="#c898a4" stroke-width="1" fill="none"/>
<path d="M231.7 210V356.6" stroke="#8c8cba" stroke-width="1" fill="none"/>
<text x="53.5" y="368.4" text-anchor="middle" class="tk" stroke="#1c1c1c">0</text>
<text x="89.14" y="368.4" text-anchor="middle" class="tk" stroke="#1c1c1c">20</text>
<text x="124.78" y="368.4" text-anchor="middle" class="tk" stroke="#1c1c1c">40</text>
<text x="160.42" y="368.4" text-anchor="middle" class="tk" stroke="#1c1c1c">60</text>
<text x="196.06" y="368.4" text-anchor="middle" class="tk" stroke="#1c1c1c">80</text>
<text x="231.7" y="368.4" text-anchor="middle" class="tk" stroke="#1c1c1c">100</text>
<text x="50.7" y="359.6" text-anchor="end" class="tk" fill="#b0222e" stroke="#b0222e">0</text>
<text x="50.7" y="338.8" text-anchor="end" class="tk" fill="#b0222e" stroke="#b0222e">200</text>
<text x="50.7" y="318" text-anchor="end" class="tk" fill="#b0222e" stroke="#b0222e">400</text>
<text x="50.7" y="297.2" text-anchor="end" class="tk" fill="#b0222e" stroke="#b0222e">600</text>
<text x="50.7" y="276.4" text-anchor="end" class="tk" fill="#b0222e" stroke="#b0222e">800</text>
<text x="50.7" y="255.6" text-anchor="end" class="tk" fill="#b0222e" stroke="#b0222e">1000</text>
<text x="50.7" y="234.8" text-anchor="end" class="tk" fill="#b0222e" stroke="#b0222e">1200</text>
<text x="235.4" y="359.8" class="tk" fill="#262690" stroke="#262690">0</text>
<text x="235.4" y="335.53" class="tk" fill="#262690" stroke="#262690">20</text>
<text x="235.4" y="311.27" class="tk" fill="#262690" stroke="#262690">40</text>
<text x="235.4" y="287" class="tk" fill="#262690" stroke="#262690">60</text>
<text x="235.4" y="262.73" class="tk" fill="#262690" stroke="#262690">80</text>
<text x="235.4" y="238.47" class="tk" fill="#262690" stroke="#262690">100</text>
<text transform="translate(15 337.2) rotate(-90)" class="at" fill="#b0222e" stroke="#b0222e">Capacity (mAh/g)</text>
<text transform="translate(266.1 356.8) rotate(-90)" class="at" fill="#262690" stroke="#262690">Coulombic efficiency (%)</text>
<text x="106.09" y="387.8" class="at" stroke="#1c1c1c">Cycle number</text>
<clipPath id="cc"><rect x="53.5" y="392.7" width="179.8" height="146.6"/></clipPath>
<path d="M71.32 539.3v-1.8M71.32 394.3v1.8M89.14 539.3v-2.8M89.14 394.3v2.8M106.96 539.3v-1.8M106.96 394.3v1.8M124.78 539.3v-2.8M124.78 394.3v2.8M142.6 539.3v-1.8M142.6 394.3v1.8M160.42 539.3v-2.8M160.42 394.3v2.8M178.24 539.3v-1.8M178.24 394.3v1.8M196.06 539.3v-2.8M196.06 394.3v2.8M213.88 539.3v-1.8M213.88 394.3v1.8" stroke="#555" stroke-width="0.8" fill="none"/>
<path d="M53.5 528.94h1.8M53.5 518.59h2.8M53.5 508.23h1.8M53.5 497.87h2.8M53.5 487.51h1.8M53.5 477.16h2.8M53.5 466.8h1.8M53.5 456.44h2.8M53.5 446.09h1.8M53.5 435.73h2.8M53.5 425.37h1.8M53.5 415.01h2.8M53.5 404.66h1.8" stroke="#b06070" stroke-width="0.8" fill="none"/>
<path d="M231.7 527.22h-1.8M231.7 515.13h-2.8M231.7 503.05h-1.8M231.7 490.97h-2.8M231.7 478.88h-1.8M231.7 466.8h-2.8M231.7 454.72h-1.8M231.7 442.63h-2.8M231.7 430.55h-1.8M231.7 418.47h-2.8M231.7 406.38h-1.8" stroke="#6060a8" stroke-width="0.8" fill="none"/>
<g clip-path="url(#cc)">
<polyline fill="none" stroke="#999" stroke-width="0.4" points="54.7,418.2 56.7,438.4 59.8,442.5 61.9,445.1 64,447.7 65.5,450.8 67.6,454.5 69.2,457.6 70.72,459.64 72.5,461.73 74.28,463.84 76.07,465.38 77.85,467.28 79.63,469.13 81.41,471.16 83.19,472.45 84.98,474.13 86.76,475.17 88.54,476.6 90.32,478.15 92.1,479.85 93.89,481.25 95.67,482.53 97.45,483.38 99.23,484.55 101.01,485.45 102.8,486.32 104.58,486.91 106.36,488.26 108.14,488.54 109.92,489.81 111.71,490.48 113.49,490.52 115.27,491.52 117.05,492.49 118.83,493.32 120.62,493.69 122.4,494.29 124.18,494.94 125.96,496.12 127.74,496.24 129.53,497.11 131.31,497.4 133.09,498.23 134.87,499.08 136.65,499.02 138.44,499.98 140.22,500.2 142,500.87 143.78,501.11 145.56,501.15 147.35,502 149.13,502.12 150.91,502.27 152.69,502.77 154.47,503.64 156.26,504.12 158.04,504.47 159.82,504.77 161.6,505.33 163.38,505.71 165.17,506.46 166.95,506.24 168.73,507.12 170.51,507.53 172.29,507.35 174.08,508.22 175.86,508.36 177.64,508.76 179.42,508.59 181.2,508.89 182.99,509.14 184.77,509.78 186.55,509.71 188.33,509.76 190.11,510.02 191.9,510.11 193.68,510.16 195.46,510.4 197.24,511.1 199.02,510.91 200.81,511.55 202.59,511.25 204.37,511.44 206.15,511.79 207.93,511.75 209.72,512.06 211.5,512.65 213.28,512.8 215.06,512.94 216.84,513.01 218.63,513.4 220.41,513.62 222.19,513.55 223.97,513.87 225.75,513.6 227.54,514.28 229.32,514.28 231.1,514.68"/>
<g fill="#000"><circle cx="54.7" cy="418.2" r="1.5"/><circle cx="56.7" cy="438.4" r="1.5"/><circle cx="59.8" cy="442.5" r="1.5"/><circle cx="61.9" cy="445.1" r="1.5"/><circle cx="64" cy="447.7" r="1.5"/><circle cx="65.5" cy="450.8" r="1.5"/><circle cx="67.6" cy="454.5" r="1.5"/><circle cx="69.2" cy="457.6" r="1.5"/><circle cx="70.72" cy="459.64" r="1.5"/><circle cx="72.5" cy="461.73" r="1.5"/><circle cx="74.28" cy="463.84" r="1.5"/><circle cx="76.07" cy="465.38" r="1.5"/><circle cx="77.85" cy="467.28" r="1.5"/><circle cx="79.63" cy="469.13" r="1.5"/><circle cx="81.41" cy="471.16" r="1.5"/><circle cx="83.19" cy="472.45" r="1.5"/><circle cx="84.98" cy="474.13" r="1.5"/><circle cx="86.76" cy="475.17" r="1.5"/><circle cx="88.54" cy="476.6" r="1.5"/><circle cx="90.32" cy="478.15" r="1.5"/><circle cx="92.1" cy="479.85" r="1.5"/><circle cx="93.89" cy="481.25" r="1.5"/><circle cx="95.67" cy="482.53" r="1.5"/><circle cx="97.45" cy="483.38" r="1.5"/><circle cx="99.23" cy="484.55" r="1.5"/><circle cx="101.01" cy="485.45" r="1.5"/><circle cx="102.8" cy="486.32" r="1.5"/><circle cx="104.58" cy="486.91" r="1.5"/><circle cx="106.36" cy="488.26" r="1.5"/><circle cx="108.14" cy="488.54" r="1.5"/><circle cx="109.92" cy="489.81" r="1.5"/><circle cx="111.71" cy="490.48" r="1.5"/><circle cx="113.49" cy="490.52" r="1.5"/><circle cx="115.27" cy="491.52" r="1.5"/><circle cx="117.05" cy="492.49" r="1.5"/><circle cx="118.83" cy="493.32" r="1.5"/><circle cx="120.62" cy="493.69" r="1.5"/><circle cx="122.4" cy="494.29" r="1.5"/><circle cx="124.18" cy="494.94" r="1.5"/><circle cx="125.96" cy="496.12" r="1.5"/><circle cx="127.74" cy="496.24" r="1.5"/><circle cx="129.53" cy="497.11" r="1.5"/><circle cx="131.31" cy="497.4" r="1.5"/><circle cx="133.09" cy="498.23" r="1.5"/><circle cx="134.87" cy="499.08" r="1.5"/><circle cx="136.65" cy="499.02" r="1.5"/><circle cx="138.44" cy="499.98" r="1.5"/><circle cx="140.22" cy="500.2" r="1.5"/><circle cx="142" cy="500.87" r="1.5"/><circle cx="143.78" cy="501.11" r="1.5"/><circle cx="145.56" cy="501.15" r="1.5"/><circle cx="147.35" cy="502" r="1.5"/><circle cx="149.13" cy="502.12" r="1.5"/><circle cx="150.91" cy="502.27" r="1.5"/><circle cx="152.69" cy="502.77" r="1.5"/><circle cx="154.47" cy="503.64" r="1.5"/><circle cx="156.26" cy="504.12" r="1.5"/><circle cx="158.04" cy="504.47" r="1.5"/><circle cx="159.82" cy="504.77" r="1.5"/><circle cx="161.6" cy="505.33" r="1.5"/><circle cx="163.38" cy="505.71" r="1.5"/><circle cx="165.17" cy="506.46" r="1.5"/><circle cx="166.95" cy="506.24" r="1.5"/><circle cx="168.73" cy="507.12" r="1.5"/><circle cx="170.51" cy="507.53" r="1.5"/><circle cx="172.29" cy="507.35" r="1.5"/><circle cx="174.08" cy="508.22" r="1.5"/><circle cx="175.86" cy="508.36" r="1.5"/><circle cx="177.64" cy="508.76" r="1.5"/><circle cx="179.42" cy="508.59" r="1.5"/><circle cx="181.2" cy="508.89" r="1.5"/><circle cx="182.99" cy="509.14" r="1.5"/><circle cx="184.77" cy="509.78" r="1.5"/><circle cx="186.55" cy="509.71" r="1.5"/><circle cx="188.33" cy="509.76" r="1.5"/><circle cx="190.11" cy="510.02" r="1.5"/><circle cx="191.9" cy="510.11" r="1.5"/><circle cx="193.68" cy="510.16" r="1.5"/><circle cx="195.46" cy="510.4" r="1.5"/><circle cx="197.24" cy="511.1" r="1.5"/><circle cx="199.02" cy="510.91" r="1.5"/><circle cx="200.81" cy="511.55" r="1.5"/><circle cx="202.59" cy="511.25" r="1.5"/><circle cx="204.37" cy="511.44" r="1.5"/><circle cx="206.15" cy="511.79" r="1.5"/><circle cx="207.93" cy="511.75" r="1.5"/><circle cx="209.72" cy="512.06" r="1.5"/><circle cx="211.5" cy="512.65" r="1.5"/><circle cx="213.28" cy="512.8" r="1.5"/><circle cx="215.06" cy="512.94" r="1.5"/><circle cx="216.84" cy="513.01" r="1.5"/><circle cx="218.63" cy="513.4" r="1.5"/><circle cx="220.41" cy="513.62" r="1.5"/><circle cx="222.19" cy="513.55" r="1.5"/><circle cx="223.97" cy="513.87" r="1.5"/><circle cx="225.75" cy="513.6" r="1.5"/><circle cx="227.54" cy="514.28" r="1.5"/><circle cx="229.32" cy="514.28" r="1.5"/><circle cx="231.1" cy="514.68" r="1.5"/></g>
<polyline fill="none" stroke="#f0b0b0" stroke-width="0.4" points="56.7,454 59.8,437.4 61.9,439.4 64,442.5 66.1,445.1 68.1,447.7 70.2,451.3 70.72,452.37 72.5,455.23 74.28,457.79 76.07,460.84 77.85,462.37 79.63,464.45 81.41,466.06 83.19,467.68 84.98,469.53 86.76,471.22 88.54,472.31 90.32,474.28 92.1,475.75 93.89,477.58 95.67,478.98 97.45,480.32 99.23,481.74 101.01,483.05 102.8,484.59 104.58,485.15 106.36,485.68 108.14,486.82 109.92,487.53 111.71,487.81 113.49,488.31 115.27,489.1 117.05,489.77 118.83,490.67 120.62,491.17 122.4,491.88 124.18,492.47 125.96,493.22 127.74,493.96 129.53,494.35 131.31,494.59 133.09,495.04 134.87,495.54 136.65,495.84 138.44,496.23 140.22,496.47 142,497.09 143.78,498.07 145.56,497.99 147.35,498.77 149.13,499.37 150.91,500.07 152.69,500.17 154.47,500.75 156.26,501.25 158.04,501.85 159.82,502.35 161.6,503.16 163.38,503.52 165.17,503.94 166.95,503.71 168.73,504.1 170.51,504.97 172.29,505.44 174.08,505.39 175.86,505.56 177.64,504.89 179.42,504.92 181.2,505.61 182.99,506.26 184.77,507.12 186.55,507.89 188.33,507.86 190.11,508.2 191.9,508.6 193.68,509.1 195.46,509.32 197.24,509.58 199.02,509.49 200.81,509.5 202.59,509.66 204.37,509.58 206.15,509.83 207.93,509.69 209.72,510.43 211.5,510.25 213.28,510.9 215.06,510.86 216.84,510.77 218.63,510.79 220.41,511.04 222.19,511.51 223.97,511.79 225.75,511.63 227.54,511.88 229.32,512.47 231.1,512.76"/>
<g fill="#d0000c"><circle cx="56.7" cy="454" r="1.5"/><circle cx="59.8" cy="437.4" r="1.5"/><circle cx="61.9" cy="439.4" r="1.5"/><circle cx="64" cy="442.5" r="1.5"/><circle cx="66.1" cy="445.1" r="1.5"/><circle cx="68.1" cy="447.7" r="1.5"/><circle cx="70.2" cy="451.3" r="1.5"/><circle cx="70.72" cy="452.37" r="1.5"/><circle cx="72.5" cy="455.23" r="1.5"/><circle cx="74.28" cy="457.79" r="1.5"/><circle cx="76.07" cy="460.84" r="1.5"/><circle cx="77.85" cy="462.37" r="1.5"/><circle cx="79.63" cy="464.45" r="1.5"/><circle cx="81.41" cy="466.06" r="1.5"/><circle cx="83.19" cy="467.68" r="1.5"/><circle cx="84.98" cy="469.53" r="1.5"/><circle cx="86.76" cy="471.22" r="1.5"/><circle cx="88.54" cy="472.31" r="1.5"/><circle cx="90.32" cy="474.28" r="1.5"/><circle cx="92.1" cy="475.75" r="1.5"/><circle cx="93.89" cy="477.58" r="1.5"/><circle cx="95.67" cy="478.98" r="1.5"/><circle cx="97.45" cy="480.32" r="1.5"/><circle cx="99.23" cy="481.74" r="1.5"/><circle cx="101.01" cy="483.05" r="1.5"/><circle cx="102.8" cy="484.59" r="1.5"/><circle cx="104.58" cy="485.15" r="1.5"/><circle cx="106.36" cy="485.68" r="1.5"/><circle cx="108.14" cy="486.82" r="1.5"/><circle cx="109.92" cy="487.53" r="1.5"/><circle cx="111.71" cy="487.81" r="1.5"/><circle cx="113.49" cy="488.31" r="1.5"/><circle cx="115.27" cy="489.1" r="1.5"/><circle cx="117.05" cy="489.77" r="1.5"/><circle cx="118.83" cy="490.67" r="1.5"/><circle cx="120.62" cy="491.17" r="1.5"/><circle cx="122.4" cy="491.88" r="1.5"/><circle cx="124.18" cy="492.47" r="1.5"/><circle cx="125.96" cy="493.22" r="1.5"/><circle cx="127.74" cy="493.96" r="1.5"/><circle cx="129.53" cy="494.35" r="1.5"/><circle cx="131.31" cy="494.59" r="1.5"/><circle cx="133.09" cy="495.04" r="1.5"/><circle cx="134.87" cy="495.54" r="1.5"/><circle cx="136.65" cy="495.84" r="1.5"/><circle cx="138.44" cy="496.23" r="1.5"/><circle cx="140.22" cy="496.47" r="1.5"/><circle cx="142" cy="497.09" r="1.5"/><circle cx="143.78" cy="498.07" r="1.5"/><circle cx="145.56" cy="497.99" r="1.5"/><circle cx="147.35" cy="498.77" r="1.5"/><circle cx="149.13" cy="499.37" r="1.5"/><circle cx="150.91" cy="500.07" r="1.5"/><circle cx="152.69" cy="500.17" r="1.5"/><circle cx="154.47" cy="500.75" r="1.5"/><circle cx="156.26" cy="501.25" r="1.5"/><circle cx="158.04" cy="501.85" r="1.5"/><circle cx="159.82" cy="502.35" r="1.5"/><circle cx="161.6" cy="503.16" r="1.5"/><circle cx="163.38" cy="503.52" r="1.5"/><circle cx="165.17" cy="503.94" r="1.5"/><circle cx="166.95" cy="503.71" r="1.5"/><circle cx="168.73" cy="504.1" r="1.5"/><circle cx="170.51" cy="504.97" r="1.5"/><circle cx="172.29" cy="505.44" r="1.5"/><circle cx="174.08" cy="505.39" r="1.5"/><circle cx="175.86" cy="505.56" r="1.5"/><circle cx="177.64" cy="504.89" r="1.5"/><circle cx="179.42" cy="504.92" r="1.5"/><circle cx="181.2" cy="505.61" r="1.5"/><circle cx="182.99" cy="506.26" r="1.5"/><circle cx="184.77" cy="507.12" r="1.5"/><circle cx="186.55" cy="507.89" r="1.5"/><circle cx="188.33" cy="507.86" r="1.5"/><circle cx="190.11" cy="508.2" r="1.5"/><circle cx="191.9" cy="508.6" r="1.5"/><circle cx="193.68" cy="509.1" r="1.5"/><circle cx="195.46" cy="509.32" r="1.5"/><circle cx="197.24" cy="509.58" r="1.5"/><circle cx="199.02" cy="509.49" r="1.5"/><circle cx="200.81" cy="509.5" r="1.5"/><circle cx="202.59" cy="509.66" r="1.5"/><circle cx="204.37" cy="509.58" r="1.5"/><circle cx="206.15" cy="509.83" r="1.5"/><circle cx="207.93" cy="509.69" r="1.5"/><circle cx="209.72" cy="510.43" r="1.5"/><circle cx="211.5" cy="510.25" r="1.5"/><circle cx="213.28" cy="510.9" r="1.5"/><circle cx="215.06" cy="510.86" r="1.5"/><circle cx="216.84" cy="510.77" r="1.5"/><circle cx="218.63" cy="510.79" r="1.5"/><circle cx="220.41" cy="511.04" r="1.5"/><circle cx="222.19" cy="511.51" r="1.5"/><circle cx="223.97" cy="511.79" r="1.5"/><circle cx="225.75" cy="511.63" r="1.5"/><circle cx="227.54" cy="511.88" r="1.5"/><circle cx="229.32" cy="512.47" r="1.5"/><circle cx="231.1" cy="512.76" r="1.5"/></g>
<polyline fill="none" stroke="#7070d0" stroke-width="0.4" points="54,423.8 56,436.8 57.9,417.2 59.8,411.5 61.81,411.14 63.59,411.37 65.37,412.67 67.16,408.21 68.94,407.38 70.72,412.86 72.5,414.56 74.28,414.14 76.07,410.74 77.85,411.15 79.63,412.52 81.41,411.46 83.19,411.68 84.98,410.54 86.76,407.93 88.54,406.04 90.32,406.91 92.1,407.59 93.89,407.51 95.67,407.46 97.45,408.45 99.23,410.28 101.01,410.99 102.8,412.52 104.58,414.51 106.36,415.13 108.14,413.51 109.92,411.39 111.71,410.82 113.49,408.58 115.27,407.16 117.05,406.61 118.83,407.97 120.62,408.51 122.4,410.18 124.18,410.03 125.96,410.96 127.74,412.45 129.53,410.5 131.31,409.37 133.09,407.95 134.87,406.89 136.65,406.31 138.44,406.17 140.22,406.21 142,406.39 143.78,405.21 145.56,405.73 147.35,405.76 149.13,407.04 150.91,405.9 152.69,405.77 154.47,405.78 156.26,406.25 158.04,407.74 159.82,409.31 161.6,409.4 163.38,408.85 165.17,408.1 166.95,408.55 168.73,410.88 170.51,413.49 172.29,412.2 174.08,408.85 175.86,407.94 177.64,405.9 179.42,405.12 181.2,405.81 182.99,407.21 184.77,409.23 186.55,413.19 188.33,414.88 190.11,415.03 191.9,412.71 193.68,412.91 195.46,410.88 197.24,410.41 199.02,410.72 200.81,410.43 202.59,409.37 204.37,407.19 206.15,406.86 207.93,406.53 209.72,407.15 211.5,405.85 213.28,405.27 215.06,405.38 216.84,404.37 218.63,405.42 220.41,406.11 222.19,405.8 223.97,404.42 225.75,404.17 227.54,404.49 229.32,406.75 231.1,406.66"/>
<g fill="#0c0cd0"><circle cx="54" cy="423.8" r="1.5"/><circle cx="56" cy="436.8" r="1.5"/><circle cx="57.9" cy="417.2" r="1.5"/><circle cx="59.8" cy="411.5" r="1.5"/><circle cx="61.81" cy="411.14" r="1.5"/><circle cx="63.59" cy="411.37" r="1.5"/><circle cx="65.37" cy="412.67" r="1.5"/><circle cx="67.16" cy="408.21" r="1.5"/><circle cx="68.94" cy="407.38" r="1.5"/><circle cx="70.72" cy="412.86" r="1.5"/><circle cx="72.5" cy="414.56" r="1.5"/><circle cx="74.28" cy="414.14" r="1.5"/><circle cx="76.07" cy="410.74" r="1.5"/><circle cx="77.85" cy="411.15" r="1.5"/><circle cx="79.63" cy="412.52" r="1.5"/><circle cx="81.41" cy="411.46" r="1.5"/><circle cx="83.19" cy="411.68" r="1.5"/><circle cx="84.98" cy="410.54" r="1.5"/><circle cx="86.76" cy="407.93" r="1.5"/><circle cx="88.54" cy="406.04" r="1.5"/><circle cx="90.32" cy="406.91" r="1.5"/><circle cx="92.1" cy="407.59" r="1.5"/><circle cx="93.89" cy="407.51" r="1.5"/><circle cx="95.67" cy="407.46" r="1.5"/><circle cx="97.45" cy="408.45" r="1.5"/><circle cx="99.23" cy="410.28" r="1.5"/><circle cx="101.01" cy="410.99" r="1.5"/><circle cx="102.8" cy="412.52" r="1.5"/><circle cx="104.58" cy="414.51" r="1.5"/><circle cx="106.36" cy="415.13" r="1.5"/><circle cx="108.14" cy="413.51" r="1.5"/><circle cx="109.92" cy="411.39" r="1.5"/><circle cx="111.71" cy="410.82" r="1.5"/><circle cx="113.49" cy="408.58" r="1.5"/><circle cx="115.27" cy="407.16" r="1.5"/><circle cx="117.05" cy="406.61" r="1.5"/><circle cx="118.83" cy="407.97" r="1.5"/><circle cx="120.62" cy="408.51" r="1.5"/><circle cx="122.4" cy="410.18" r="1.5"/><circle cx="124.18" cy="410.03" r="1.5"/><circle cx="125.96" cy="410.96" r="1.5"/><circle cx="127.74" cy="412.45" r="1.5"/><circle cx="129.53" cy="410.5" r="1.5"/><circle cx="131.31" cy="409.37" r="1.5"/><circle cx="133.09" cy="407.95" r="1.5"/><circle cx="134.87" cy="406.89" r="1.5"/><circle cx="136.65" cy="406.31" r="1.5"/><circle cx="138.44" cy="406.17" r="1.5"/><circle cx="140.22" cy="406.21" r="1.5"/><circle cx="142" cy="406.39" r="1.5"/><circle cx="143.78" cy="405.21" r="1.5"/><circle cx="145.56" cy="405.73" r="1.5"/><circle cx="147.35" cy="405.76" r="1.5"/><circle cx="149.13" cy="407.04" r="1.5"/><circle cx="150.91" cy="405.9" r="1.5"/><circle cx="152.69" cy="405.77" r="1.5"/><circle cx="154.47" cy="405.78" r="1.5"/><circle cx="156.26" cy="406.25" r="1.5"/><circle cx="158.04" cy="407.74" r="1.5"/><circle cx="159.82" cy="409.31" r="1.5"/><circle cx="161.6" cy="409.4" r="1.5"/><circle cx="163.38" cy="408.85" r="1.5"/><circle cx="165.17" cy="408.1" r="1.5"/><circle cx="166.95" cy="408.55" r="1.5"/><circle cx="168.73" cy="410.88" r="1.5"/><circle cx="170.51" cy="413.49" r="1.5"/><circle cx="172.29" cy="412.2" r="1.5"/><circle cx="174.08" cy="408.85" r="1.5"/><circle cx="175.86" cy="407.94" r="1.5"/><circle cx="177.64" cy="405.9" r="1.5"/><circle cx="179.42" cy="405.12" r="1.5"/><circle cx="181.2" cy="405.81" r="1.5"/><circle cx="182.99" cy="407.21" r="1.5"/><circle cx="184.77" cy="409.23" r="1.5"/><circle cx="186.55" cy="413.19" r="1.5"/><circle cx="188.33" cy="414.88" r="1.5"/><circle cx="190.11" cy="415.03" r="1.5"/><circle cx="191.9" cy="412.71" r="1.5"/><circle cx="193.68" cy="412.91" r="1.5"/><circle cx="195.46" cy="410.88" r="1.5"/><circle cx="197.24" cy="410.41" r="1.5"/><circle cx="199.02" cy="410.72" r="1.5"/><circle cx="200.81" cy="410.43" r="1.5"/><circle cx="202.59" cy="409.37" r="1.5"/><circle cx="204.37" cy="407.19" r="1.5"/><circle cx="206.15" cy="406.86" r="1.5"/><circle cx="207.93" cy="406.53" r="1.5"/><circle cx="209.72" cy="407.15" r="1.5"/><circle cx="211.5" cy="405.85" r="1.5"/><circle cx="213.28" cy="405.27" r="1.5"/><circle cx="215.06" cy="405.38" r="1.5"/><circle cx="216.84" cy="404.37" r="1.5"/><circle cx="218.63" cy="405.42" r="1.5"/><circle cx="220.41" cy="406.11" r="1.5"/><circle cx="222.19" cy="405.8" r="1.5"/><circle cx="223.97" cy="404.42" r="1.5"/><circle cx="225.75" cy="404.17" r="1.5"/><circle cx="227.54" cy="404.49" r="1.5"/><circle cx="229.32" cy="406.75" r="1.5"/><circle cx="231.1" cy="406.66" r="1.5"/></g>
</g>
<path d="M53.5 394.3H231.7 M53.5 539.3H231.7" stroke="#707070" stroke-width="1.1" fill="none"/>
<path d="M53.5 393.8V539.8" stroke="#c898a4" stroke-width="1" fill="none"/>
<path d="M231.7 393.8V539.8" stroke="#8c8cba" stroke-width="1" fill="none"/>
<text x="53.5" y="551.6" text-anchor="middle" class="tk" stroke="#1c1c1c">0</text>
<text x="89.14" y="551.6" text-anchor="middle" class="tk" stroke="#1c1c1c">20</text>
<text x="124.78" y="551.6" text-anchor="middle" class="tk" stroke="#1c1c1c">40</text>
<text x="160.42" y="551.6" text-anchor="middle" class="tk" stroke="#1c1c1c">60</text>
<text x="196.06" y="551.6" text-anchor="middle" class="tk" stroke="#1c1c1c">80</text>
<text x="231.7" y="551.6" text-anchor="middle" class="tk" stroke="#1c1c1c">100</text>
<text x="50.7" y="542.8" text-anchor="end" class="tk" fill="#b0222e" stroke="#b0222e">0</text>
<text x="50.7" y="522.09" text-anchor="end" class="tk" fill="#b0222e" stroke="#b0222e">200</text>
<text x="50.7" y="501.37" text-anchor="end" class="tk" fill="#b0222e" stroke="#b0222e">400</text>
<text x="50.7" y="480.66" text-anchor="end" class="tk" fill="#b0222e" stroke="#b0222e">600</text>
<text x="50.7" y="459.94" text-anchor="end" class="tk" fill="#b0222e" stroke="#b0222e">800</text>
<text x="50.7" y="439.23" text-anchor="end" class="tk" fill="#b0222e" stroke="#b0222e">1000</text>
<text x="50.7" y="418.51" text-anchor="end" class="tk" fill="#b0222e" stroke="#b0222e">1200</text>
<text x="235.4" y="543" class="tk" fill="#262690" stroke="#262690">0</text>
<text x="235.4" y="518.83" class="tk" fill="#262690" stroke="#262690">20</text>
<text x="235.4" y="494.67" class="tk" fill="#262690" stroke="#262690">40</text>
<text x="235.4" y="470.5" class="tk" fill="#262690" stroke="#262690">60</text>
<text x="235.4" y="446.33" class="tk" fill="#262690" stroke="#262690">80</text>
<text x="235.4" y="422.17" class="tk" fill="#262690" stroke="#262690">100</text>
<text transform="translate(15 521) rotate(-90)" class="at" fill="#b0222e" stroke="#b0222e">Capacity (mAh/g)</text>
<text transform="translate(266.1 540.6) rotate(-90)" class="at" fill="#262690" stroke="#262690">Coulombic efficiency (%)</text>
<text x="105.59" y="571.4" class="at" stroke="#1c1c1c">Cycle number</text>
<clipPath id="cd"><rect x="328.3" y="24.8" width="179.9" height="146.7"/></clipPath>
<path d="M346.13 171.5v-1.8M346.13 26.4v1.8M363.96 171.5v-2.8M363.96 26.4v2.8M381.79 171.5v-1.8M381.79 26.4v1.8M399.62 171.5v-2.8M399.62 26.4v2.8M417.45 171.5v-1.8M417.45 26.4v1.8M435.28 171.5v-2.8M435.28 26.4v2.8M453.11 171.5v-1.8M453.11 26.4v1.8M470.94 171.5v-2.8M470.94 26.4v2.8M488.77 171.5v-1.8M488.77 26.4v1.8" stroke="#555" stroke-width="0.8" fill="none"/>
<path d="M328.3 161.14h1.8M328.3 150.77h2.8M328.3 140.41h1.8M328.3 130.04h2.8M328.3 119.68h1.8M328.3 109.31h2.8M328.3 98.95h1.8M328.3 88.59h2.8M328.3 78.22h1.8M328.3 67.86h2.8M328.3 57.49h1.8M328.3 47.13h2.8M328.3 36.76h1.8" stroke="#b06070" stroke-width="0.8" fill="none"/>
<path d="M506.6 159.41h-1.8M506.6 147.32h-2.8M506.6 135.22h-1.8M506.6 123.13h-2.8M506.6 111.04h-1.8M506.6 98.95h-2.8M506.6 86.86h-1.8M506.6 74.77h-2.8M506.6 62.68h-1.8M506.6 50.58h-2.8M506.6 38.49h-1.8" stroke="#6060a8" stroke-width="0.8" fill="none"/>
<g clip-path="url(#cd)">
<g fill="#000"><circle cx="329.48" cy="104.2" r="1.5"/><circle cx="331.26" cy="106.4" r="1.5"/><circle cx="333.05" cy="109.87" r="1.5"/><circle cx="334.83" cy="108.47" r="1.5"/><circle cx="336.61" cy="108.35" r="1.5"/><circle cx="338.39" cy="108.63" r="1.5"/><circle cx="340.17" cy="109.35" r="1.5"/><circle cx="341.96" cy="109.44" r="1.5"/><circle cx="343.74" cy="111.84" r="1.5"/><circle cx="345.52" cy="112.24" r="1.5"/><circle cx="347.3" cy="112.27" r="1.5"/><circle cx="349.08" cy="112.46" r="1.5"/><circle cx="350.87" cy="112.87" r="1.5"/><circle cx="352.65" cy="113.3" r="1.5"/><circle cx="354.43" cy="113.33" r="1.5"/><circle cx="356.21" cy="113.73" r="1.5"/><circle cx="357.99" cy="114.05" r="1.5"/><circle cx="359.78" cy="114.71" r="1.5"/><circle cx="361.56" cy="114.89" r="1.5"/><circle cx="363.34" cy="114.85" r="1.5"/><circle cx="365.12" cy="115.06" r="1.5"/><circle cx="366.9" cy="115.61" r="1.5"/><circle cx="368.69" cy="116.28" r="1.5"/><circle cx="370.47" cy="116.82" r="1.5"/><circle cx="372.25" cy="116.7" r="1.5"/><circle cx="374.03" cy="115.53" r="1.5"/><circle cx="375.81" cy="116.65" r="1.5"/><circle cx="377.6" cy="117.67" r="1.5"/><circle cx="379.38" cy="118.43" r="1.5"/><circle cx="381.16" cy="118.86" r="1.5"/><circle cx="382.94" cy="119.5" r="1.5"/><circle cx="384.72" cy="119.44" r="1.5"/><circle cx="386.51" cy="119.81" r="1.5"/><circle cx="388.29" cy="119.98" r="1.5"/><circle cx="390.07" cy="120.29" r="1.5"/><circle cx="391.85" cy="120.8" r="1.5"/><circle cx="393.63" cy="121.14" r="1.5"/><circle cx="395.42" cy="121.09" r="1.5"/><circle cx="397.2" cy="121.26" r="1.5"/><circle cx="398.98" cy="121.77" r="1.5"/><circle cx="400.76" cy="121.75" r="1.5"/><circle cx="402.54" cy="121.88" r="1.5"/><circle cx="404.33" cy="122.56" r="1.5"/><circle cx="406.11" cy="122.55" r="1.5"/><circle cx="407.89" cy="122.97" r="1.5"/><circle cx="409.67" cy="122.97" r="1.5"/><circle cx="411.45" cy="123.42" r="1.5"/><circle cx="413.24" cy="123.41" r="1.5"/><circle cx="415.02" cy="123.48" r="1.5"/><circle cx="416.8" cy="123.65" r="1.5"/><circle cx="418.58" cy="124.18" r="1.5"/><circle cx="420.36" cy="124.51" r="1.5"/><circle cx="422.15" cy="124.95" r="1.5"/><circle cx="423.93" cy="124.88" r="1.5"/><circle cx="425.71" cy="125.52" r="1.5"/><circle cx="427.49" cy="125.82" r="1.5"/><circle cx="429.27" cy="126.37" r="1.5"/><circle cx="431.06" cy="127.01" r="1.5"/><circle cx="432.84" cy="126.94" r="1.5"/><circle cx="434.62" cy="125.31" r="1.5"/><circle cx="436.4" cy="125.59" r="1.5"/><circle cx="438.18" cy="125.36" r="1.5"/><circle cx="439.97" cy="125.79" r="1.5"/><circle cx="441.75" cy="126.21" r="1.5"/><circle cx="443.53" cy="126.54" r="1.5"/><circle cx="445.31" cy="126.34" r="1.5"/><circle cx="447.09" cy="126.47" r="1.5"/><circle cx="448.88" cy="127.03" r="1.5"/><circle cx="450.66" cy="127.2" r="1.5"/><circle cx="452.44" cy="127.1" r="1.5"/><circle cx="454.22" cy="127.04" r="1.5"/><circle cx="456" cy="127.64" r="1.5"/><circle cx="457.79" cy="127.56" r="1.5"/><circle cx="459.57" cy="128.02" r="1.5"/><circle cx="461.35" cy="128.12" r="1.5"/><circle cx="463.13" cy="128.49" r="1.5"/><circle cx="464.91" cy="128.45" r="1.5"/><circle cx="466.7" cy="129.09" r="1.5"/><circle cx="468.48" cy="129.17" r="1.5"/><circle cx="470.26" cy="129.63" r="1.5"/><circle cx="472.04" cy="130.33" r="1.5"/><circle cx="473.82" cy="131.78" r="1.5"/><circle cx="475.61" cy="133.97" r="1.5"/><circle cx="477.39" cy="136.07" r="1.5"/><circle cx="479.17" cy="136.2" r="1.5"/><circle cx="480.95" cy="136.29" r="1.5"/><circle cx="482.73" cy="136.24" r="1.5"/><circle cx="484.52" cy="136.11" r="1.5"/><circle cx="486.3" cy="136.16" r="1.5"/><circle cx="488.08" cy="136.34" r="1.5"/><circle cx="489.86" cy="136.33" r="1.5"/><circle cx="491.64" cy="135.75" r="1.5"/><circle cx="493.43" cy="135.19" r="1.5"/><circle cx="495.21" cy="134.6" r="1.5"/><circle cx="496.99" cy="134.18" r="1.5"/><circle cx="498.77" cy="134.55" r="1.5"/><circle cx="500.55" cy="134.17" r="1.5"/><circle cx="502.34" cy="134.39" r="1.5"/><circle cx="504.12" cy="134.35" r="1.5"/><circle cx="505.9" cy="134.37" r="1.5"/></g>
<polyline fill="none" stroke="#f0b0b0" stroke-width="0.4" points="329.48,113.46 331.26,110.86 333.05,107.87 334.83,106.47 336.61,106.35 338.39,106.63 340.17,107.35 341.96,107.44 343.74,109.84 345.52,110.24 347.3,110.27 349.08,110.46 350.87,110.87 352.65,111.3 354.43,111.33 356.21,111.73 357.99,112.05 359.78,112.71 361.56,112.89 363.34,112.85 365.12,113.06 366.9,113.61 368.69,114.28 370.47,114.82 372.25,114.7 374.03,113.53 375.81,114.65 377.6,115.67 379.38,116.43 381.16,116.86 382.94,117.5 384.72,117.44 386.51,117.81 388.29,117.98 390.07,118.29 391.85,118.8 393.63,119.14 395.42,119.09 397.2,119.26 398.98,119.77 400.76,119.75 402.54,119.88 404.33,120.56 406.11,120.55 407.89,120.97 409.67,120.97 411.45,121.42 413.24,121.41 415.02,121.48 416.8,121.65 418.58,122.18 420.36,122.51 422.15,122.95 423.93,122.88 425.71,123.52 427.49,123.82 429.27,124.37 431.06,125.01 432.84,124.94 434.62,123.31 436.4,123.59 438.18,123.36 439.97,123.79 441.75,124.21 443.53,124.54 445.31,124.34 447.09,124.47 448.88,125.03 450.66,125.2 452.44,125.1 454.22,125.04 456,125.64 457.79,125.56 459.57,126.02 461.35,126.12 463.13,126.49 464.91,126.45 466.7,127.09 468.48,127.17 470.26,127.63 472.04,128.33 473.82,129.78 475.61,131.97 477.39,134.07 479.17,134.2 480.95,134.29 482.73,134.24 484.52,134.11 486.3,134.16 488.08,134.34 489.86,134.33 491.64,133.75 493.43,133.19 495.21,132.6 496.99,132.18 498.77,132.55 500.55,132.17 502.34,132.39 504.12,132.35 505.9,132.37"/>
<g fill="#d0000c"><circle cx="329.48" cy="113.46" r="1.5"/><circle cx="331.26" cy="110.86" r="1.5"/><circle cx="333.05" cy="107.87" r="1.5"/><circle cx="334.83" cy="106.47" r="1.5"/><circle cx="336.61" cy="106.35" r="1.5"/><circle cx="338.39" cy="106.63" r="1.5"/><circle cx="340.17" cy="107.35" r="1.5"/><circle cx="341.96" cy="107.44" r="1.5"/><circle cx="343.74" cy="109.84" r="1.5"/><circle cx="345.52" cy="110.24" r="1.5"/><circle cx="347.3" cy="110.27" r="1.5"/><circle cx="349.08" cy="110.46" r="1.5"/><circle cx="350.87" cy="110.87" r="1.5"/><circle cx="352.65" cy="111.3" r="1.5"/><circle cx="354.43" cy="111.33" r="1.5"/><circle cx="356.21" cy="111.73" r="1.5"/><circle cx="357.99" cy="112.05" r="1.5"/><circle cx="359.78" cy="112.71" r="1.5"/><circle cx="361.56" cy="112.89" r="1.5"/><circle cx="363.34" cy="112.85" r="1.5"/><circle cx="365.12" cy="113.06" r="1.5"/><circle cx="366.9" cy="113.61" r="1.5"/><circle cx="368.69" cy="114.28" r="1.5"/><circle cx="370.47" cy="114.82" r="1.5"/><circle cx="372.25" cy="114.7" r="1.5"/><circle cx="374.03" cy="113.53" r="1.5"/><circle cx="375.81" cy="114.65" r="1.5"/><circle cx="377.6" cy="115.67" r="1.5"/><circle cx="379.38" cy="116.43" r="1.5"/><circle cx="381.16" cy="116.86" r="1.5"/><circle cx="382.94" cy="117.5" r="1.5"/><circle cx="384.72" cy="117.44" r="1.5"/><circle cx="386.51" cy="117.81" r="1.5"/><circle cx="388.29" cy="117.98" r="1.5"/><circle cx="390.07" cy="118.29" r="1.5"/><circle cx="391.85" cy="118.8" r="1.5"/><circle cx="393.63" cy="119.14" r="1.5"/><circle cx="395.42" cy="119.09" r="1.5"/><circle cx="397.2" cy="119.26" r="1.5"/><circle cx="398.98" cy="119.77" r="1.5"/><circle cx="400.76" cy="119.75" r="1.5"/><circle cx="402.54" cy="119.88" r="1.5"/><circle cx="404.33" cy="120.56" r="1.5"/><circle cx="406.11" cy="120.55" r="1.5"/><circle cx="407.89" cy="120.97" r="1.5"/><circle cx="409.67" cy="120.97" r="1.5"/><circle cx="411.45" cy="121.42" r="1.5"/><circle cx="413.24" cy="121.41" r="1.5"/><circle cx="415.02" cy="121.48" r="1.5"/><circle cx="416.8" cy="121.65" r="1.5"/><circle cx="418.58" cy="122.18" r="1.5"/><circle cx="420.36" cy="122.51" r="1.5"/><circle cx="422.15" cy="122.95" r="1.5"/><circle cx="423.93" cy="122.88" r="1.5"/><circle cx="425.71" cy="123.52" r="1.5"/><circle cx="427.49" cy="123.82" r="1.5"/><circle cx="429.27" cy="124.37" r="1.5"/><circle cx="431.06" cy="125.01" r="1.5"/><circle cx="432.84" cy="124.94" r="1.5"/><circle cx="434.62" cy="123.31" r="1.5"/><circle cx="436.4" cy="123.59" r="1.5"/><circle cx="438.18" cy="123.36" r="1.5"/><circle cx="439.97" cy="123.79" r="1.5"/><circle cx="441.75" cy="124.21" r="1.5"/><circle cx="443.53" cy="124.54" r="1.5"/><circle cx="445.31" cy="124.34" r="1.5"/><circle cx="447.09" cy="124.47" r="1.5"/><circle cx="448.88" cy="125.03" r="1.5"/><circle cx="450.66" cy="125.2" r="1.5"/><circle cx="452.44" cy="125.1" r="1.5"/><circle cx="454.22" cy="125.04" r="1.5"/><circle cx="456" cy="125.64" r="1.5"/><circle cx="457.79" cy="125.56" r="1.5"/><circle cx="459.57" cy="126.02" r="1.5"/><circle cx="461.35" cy="126.12" r="1.5"/><circle cx="463.13" cy="126.49" r="1.5"/><circle cx="464.91" cy="126.45" r="1.5"/><circle cx="466.7" cy="127.09" r="1.5"/><circle cx="468.48" cy="127.17" r="1.5"/><circle cx="470.26" cy="127.63" r="1.5"/><circle cx="472.04" cy="128.33" r="1.5"/><circle cx="473.82" cy="129.78" r="1.5"/><circle cx="475.61" cy="131.97" r="1.5"/><circle cx="477.39" cy="134.07" r="1.5"/><circle cx="479.17" cy="134.2" r="1.5"/><circle cx="480.95" cy="134.29" r="1.5"/><circle cx="482.73" cy="134.24" r="1.5"/><circle cx="484.52" cy="134.11" r="1.5"/><circle cx="486.3" cy="134.16" r="1.5"/><circle cx="488.08" cy="134.34" r="1.5"/><circle cx="489.86" cy="134.33" r="1.5"/><circle cx="491.64" cy="133.75" r="1.5"/><circle cx="493.43" cy="133.19" r="1.5"/><circle cx="495.21" cy="132.6" r="1.5"/><circle cx="496.99" cy="132.18" r="1.5"/><circle cx="498.77" cy="132.55" r="1.5"/><circle cx="500.55" cy="132.17" r="1.5"/><circle cx="502.34" cy="132.39" r="1.5"/><circle cx="504.12" cy="132.35" r="1.5"/><circle cx="505.9" cy="132.37" r="1.5"/></g>
<polyline fill="none" stroke="#7070d0" stroke-width="0.4" points="329.48,69 331.26,59 333.05,53.2 334.83,51.06 336.61,50.18 338.39,48.88 340.17,48.18 341.96,48.06 343.74,47.4 345.52,47.04 347.3,47.57 349.08,47.47 350.87,47.14 352.65,46.52 354.43,46.87 356.21,46.85 357.99,46.54 359.78,46.62 361.56,45.84 363.34,45.87 365.12,45.95 366.9,46.2 368.69,46.13 370.47,45.67 372.25,45.53 374.03,45.65 375.81,45.7 377.6,46.02 379.38,45.52 381.16,45.97 382.94,45.96 384.72,46.05 386.51,46.04 388.29,45.96 390.07,45.79 391.85,45.81 393.63,45.87 395.42,46.18 397.2,45.7 398.98,45.79 400.76,46.17 402.54,45.79 404.33,45.63 406.11,45.55 407.89,45.86 409.67,45.63 411.45,46.03 413.24,45.9 415.02,45.92 416.8,45.37 418.58,45.22 420.36,45.22 422.15,45.51 423.93,45.67 425.71,45.51 427.49,45.4 429.27,45.56 431.06,45.74 432.84,45.82 434.62,45.9 436.4,46 438.18,45.9 439.97,45.53 441.75,46.04 443.53,45.65 445.31,45.83 447.09,45.69 448.88,45.92 450.66,45.53 452.44,45.54 454.22,45.51 456,45.42 457.79,45.9 459.57,45.65 461.35,45.43 463.13,45.43 464.91,45.77 466.7,45.34 468.48,45.04 470.26,45.28 472.04,44.95 473.82,44.92 475.61,44.05 477.39,47.77 479.17,47.3 480.95,46.71 482.73,46.21 484.52,45.38 486.3,45.62 488.08,45.63 489.86,45.82 491.64,46.59 493.43,46.52 495.21,46.79 496.99,46.29 498.77,46.5 500.55,46.09 502.34,45.85 504.12,46.11 505.9,46.12"/>
<g fill="#0c0cd0"><circle cx="329.48" cy="69" r="1.5"/><circle cx="331.26" cy="59" r="1.5"/><circle cx="333.05" cy="53.2" r="1.5"/><circle cx="334.83" cy="51.06" r="1.5"/><circle cx="336.61" cy="50.18" r="1.5"/><circle cx="338.39" cy="48.88" r="1.5"/><circle cx="340.17" cy="48.18" r="1.5"/><circle cx="341.96" cy="48.06" r="1.5"/><circle cx="343.74" cy="47.4" r="1.5"/><circle cx="345.52" cy="47.04" r="1.5"/><circle cx="347.3" cy="47.57" r="1.5"/><circle cx="349.08" cy="47.47" r="1.5"/><circle cx="350.87" cy="47.14" r="1.5"/><circle cx="352.65" cy="46.52" r="1.5"/><circle cx="354.43" cy="46.87" r="1.5"/><circle cx="356.21" cy="46.85" r="1.5"/><circle cx="357.99" cy="46.54" r="1.5"/><circle cx="359.78" cy="46.62" r="1.5"/><circle cx="361.56" cy="45.84" r="1.5"/><circle cx="363.34" cy="45.87" r="1.5"/><circle cx="365.12" cy="45.95" r="1.5"/><circle cx="366.9" cy="46.2" r="1.5"/><circle cx="368.69" cy="46.13" r="1.5"/><circle cx="370.47" cy="45.67" r="1.5"/><circle cx="372.25" cy="45.53" r="1.5"/><circle cx="374.03" cy="45.65" r="1.5"/><circle cx="375.81" cy="45.7" r="1.5"/><circle cx="377.6" cy="46.02" r="1.5"/><circle cx="379.38" cy="45.52" r="1.5"/><circle cx="381.16" cy="45.97" r="1.5"/><circle cx="382.94" cy="45.96" r="1.5"/><circle cx="384.72" cy="46.05" r="1.5"/><circle cx="386.51" cy="46.04" r="1.5"/><circle cx="388.29" cy="45.96" r="1.5"/><circle cx="390.07" cy="45.79" r="1.5"/><circle cx="391.85" cy="45.81" r="1.5"/><circle cx="393.63" cy="45.87" r="1.5"/><circle cx="395.42" cy="46.18" r="1.5"/><circle cx="397.2" cy="45.7" r="1.5"/><circle cx="398.98" cy="45.79" r="1.5"/><circle cx="400.76" cy="46.17" r="1.5"/><circle cx="402.54" cy="45.79" r="1.5"/><circle cx="404.33" cy="45.63" r="1.5"/><circle cx="406.11" cy="45.55" r="1.5"/><circle cx="407.89" cy="45.86" r="1.5"/><circle cx="409.67" cy="45.63" r="1.5"/><circle cx="411.45" cy="46.03" r="1.5"/><circle cx="413.24" cy="45.9" r="1.5"/><circle cx="415.02" cy="45.92" r="1.5"/><circle cx="416.8" cy="45.37" r="1.5"/><circle cx="418.58" cy="45.22" r="1.5"/><circle cx="420.36" cy="45.22" r="1.5"/><circle cx="422.15" cy="45.51" r="1.5"/><circle cx="423.93" cy="45.67" r="1.5"/><circle cx="425.71" cy="45.51" r="1.5"/><circle cx="427.49" cy="45.4" r="1.5"/><circle cx="429.27" cy="45.56" r="1.5"/><circle cx="431.06" cy="45.74" r="1.5"/><circle cx="432.84" cy="45.82" r="1.5"/><circle cx="434.62" cy="45.9" r="1.5"/><circle cx="436.4" cy="46" r="1.5"/><circle cx="438.18" cy="45.9" r="1.5"/><circle cx="439.97" cy="45.53" r="1.5"/><circle cx="441.75" cy="46.04" r="1.5"/><circle cx="443.53" cy="45.65" r="1.5"/><circle cx="445.31" cy="45.83" r="1.5"/><circle cx="447.09" cy="45.69" r="1.5"/><circle cx="448.88" cy="45.92" r="1.5"/><circle cx="450.66" cy="45.53" r="1.5"/><circle cx="452.44" cy="45.54" r="1.5"/><circle cx="454.22" cy="45.51" r="1.5"/><circle cx="456" cy="45.42" r="1.5"/><circle cx="457.79" cy="45.9" r="1.5"/><circle cx="459.57" cy="45.65" r="1.5"/><circle cx="461.35" cy="45.43" r="1.5"/><circle cx="463.13" cy="45.43" r="1.5"/><circle cx="464.91" cy="45.77" r="1.5"/><circle cx="466.7" cy="45.34" r="1.5"/><circle cx="468.48" cy="45.04" r="1.5"/><circle cx="470.26" cy="45.28" r="1.5"/><circle cx="472.04" cy="44.95" r="1.5"/><circle cx="473.82" cy="44.92" r="1.5"/><circle cx="475.61" cy="44.05" r="1.5"/><circle cx="477.39" cy="47.77" r="1.5"/><circle cx="479.17" cy="47.3" r="1.5"/><circle cx="480.95" cy="46.71" r="1.5"/><circle cx="482.73" cy="46.21" r="1.5"/><circle cx="484.52" cy="45.38" r="1.5"/><circle cx="486.3" cy="45.62" r="1.5"/><circle cx="488.08" cy="45.63" r="1.5"/><circle cx="489.86" cy="45.82" r="1.5"/><circle cx="491.64" cy="46.59" r="1.5"/><circle cx="493.43" cy="46.52" r="1.5"/><circle cx="495.21" cy="46.79" r="1.5"/><circle cx="496.99" cy="46.29" r="1.5"/><circle cx="498.77" cy="46.5" r="1.5"/><circle cx="500.55" cy="46.09" r="1.5"/><circle cx="502.34" cy="45.85" r="1.5"/><circle cx="504.12" cy="46.11" r="1.5"/><circle cx="505.9" cy="46.12" r="1.5"/></g>
</g>
<path d="M328.3 26.4H506.6 M328.3 171.5H506.6" stroke="#707070" stroke-width="1.1" fill="none"/>
<path d="M328.3 25.9V172" stroke="#c898a4" stroke-width="1" fill="none"/>
<path d="M506.6 25.9V172" stroke="#8c8cba" stroke-width="1" fill="none"/>
<text x="328.3" y="183.8" text-anchor="middle" class="tk" stroke="#1c1c1c">0</text>
<text x="363.96" y="183.8" text-anchor="middle" class="tk" stroke="#1c1c1c">20</text>
<text x="399.62" y="183.8" text-anchor="middle" class="tk" stroke="#1c1c1c">40</text>
<text x="435.28" y="183.8" text-anchor="middle" class="tk" stroke="#1c1c1c">60</text>
<text x="470.94" y="183.8" text-anchor="middle" class="tk" stroke="#1c1c1c">80</text>
<text x="506.6" y="183.8" text-anchor="middle" class="tk" stroke="#1c1c1c">100</text>
<text x="325.5" y="175" text-anchor="end" class="tk" fill="#b0222e" stroke="#b0222e">0</text>
<text x="325.5" y="154.27" text-anchor="end" class="tk" fill="#b0222e" stroke="#b0222e">200</text>
<text x="325.5" y="133.54" text-anchor="end" class="tk" fill="#b0222e" stroke="#b0222e">400</text>
<text x="325.5" y="112.81" text-anchor="end" class="tk" fill="#b0222e" stroke="#b0222e">600</text>
<text x="325.5" y="92.09" text-anchor="end" class="tk" fill="#b0222e" stroke="#b0222e">800</text>
<text x="325.5" y="71.36" text-anchor="end" class="tk" fill="#b0222e" stroke="#b0222e">1000</text>
<text x="325.5" y="50.63" text-anchor="end" class="tk" fill="#b0222e" stroke="#b0222e">1200</text>
<text x="510.3" y="175.2" class="tk" fill="#262690" stroke="#262690">0</text>
<text x="510.3" y="151.02" class="tk" fill="#262690" stroke="#262690">20</text>
<text x="510.3" y="126.83" class="tk" fill="#262690" stroke="#262690">40</text>
<text x="510.3" y="102.65" class="tk" fill="#262690" stroke="#262690">60</text>
<text x="510.3" y="78.47" class="tk" fill="#262690" stroke="#262690">80</text>
<text x="510.3" y="54.28" class="tk" fill="#262690" stroke="#262690">100</text>
<text transform="translate(289.6 153.1) rotate(-90)" class="at" fill="#b0222e" stroke="#b0222e">Capacity (mAh/g)</text>
<text transform="translate(541 172.7) rotate(-90)" class="at" fill="#262690" stroke="#262690">Coulombic efficiency (%)</text>
<text x="380.69" y="203.9" class="at" stroke="#1c1c1c">Cycle number</text>
<clipPath id="ce"><rect x="328.3" y="208.9" width="179.9" height="147.2"/></clipPath>
<path d="M346.13 356.1v-1.8M346.13 210.5v1.8M363.96 356.1v-2.8M363.96 210.5v2.8M381.79 356.1v-1.8M381.79 210.5v1.8M399.62 356.1v-2.8M399.62 210.5v2.8M417.45 356.1v-1.8M417.45 210.5v1.8M435.28 356.1v-2.8M435.28 210.5v2.8M453.11 356.1v-1.8M453.11 210.5v1.8M470.94 356.1v-2.8M470.94 210.5v2.8M488.77 356.1v-1.8M488.77 210.5v1.8" stroke="#555" stroke-width="0.8" fill="none"/>
<path d="M328.3 345.7h1.8M328.3 335.3h2.8M328.3 324.9h1.8M328.3 314.5h2.8M328.3 304.1h1.8M328.3 293.7h2.8M328.3 283.3h1.8M328.3 272.9h2.8M328.3 262.5h1.8M328.3 252.1h2.8M328.3 241.7h1.8M328.3 231.3h2.8M328.3 220.9h1.8" stroke="#b06070" stroke-width="0.8" fill="none"/>
<path d="M506.6 343.97h-1.8M506.6 331.83h-2.8M506.6 319.7h-1.8M506.6 307.57h-2.8M506.6 295.43h-1.8M506.6 283.3h-2.8M506.6 271.17h-1.8M506.6 259.03h-2.8M506.6 246.9h-1.8M506.6 234.77h-2.8M506.6 222.63h-1.8" stroke="#6060a8" stroke-width="0.8" fill="none"/>
<g clip-path="url(#ce)">
<polyline fill="none" stroke="#999" stroke-width="0.4" points="329.48,265.49 331.26,265.38 333.05,265.76 334.83,266.09 336.61,266.96 338.39,267.73 340.17,269.31 341.96,270.33 343.74,271.14 345.52,271.97 347.3,273.05 349.08,273.53 350.87,274.81 352.65,275.1 354.43,275.74 356.21,276.45 357.99,277.56 359.78,277.78 361.56,278.19 363.34,278.64 365.12,279.17 366.9,280.1 368.69,280.62 370.47,281.19 372.25,281.72 374.03,281.77 375.81,282.49 377.6,282.74 379.38,283.38 381.16,283.73 382.94,284.11 384.72,283.95 386.51,284.77 388.29,285.13 390.07,285.5 391.85,285.36 393.63,285.79 395.42,286.12 397.2,286.45 398.98,287.32 400.76,287.67 402.54,287.92 404.33,288.38 406.11,288.58 407.89,288.66 409.67,288.8 411.45,288.99 413.24,289.52 415.02,289.29 416.8,289.45 418.58,289.62 420.36,289.52 422.15,289.87 423.93,290.17 425.71,290.83 427.49,294.06 429.27,295.65 431.06,297.29 432.84,297.9 434.62,298.56 436.4,298.51 438.18,298.19 439.97,298.45 441.75,298.48 443.53,298.69 445.31,298.46 447.09,298.71 448.88,298.67 450.66,298.58 452.44,299.11 454.22,298.82 456,299.46 457.79,299.29 459.57,299.42 461.35,299.77 463.13,300.33 464.91,300.68 466.7,300.3 468.48,300.79 470.26,300.99 472.04,301.38 473.82,301.21 475.61,301.61 477.39,301.72 479.17,302.22 480.95,302.07 482.73,302.67 484.52,302.45 486.3,302.59 488.08,303.04 489.86,303.08 491.64,303 493.43,303.46 495.21,303.28 496.99,303.84 498.77,303.93 500.55,304.13 502.34,304.18 504.12,304.16 505.9,304.33"/>
<g fill="#000"><circle cx="329.48" cy="265.49" r="1.5"/><circle cx="331.26" cy="265.38" r="1.5"/><circle cx="333.05" cy="265.76" r="1.5"/><circle cx="334.83" cy="266.09" r="1.5"/><circle cx="336.61" cy="266.96" r="1.5"/><circle cx="338.39" cy="267.73" r="1.5"/><circle cx="340.17" cy="269.31" r="1.5"/><circle cx="341.96" cy="270.33" r="1.5"/><circle cx="343.74" cy="271.14" r="1.5"/><circle cx="345.52" cy="271.97" r="1.5"/><circle cx="347.3" cy="273.05" r="1.5"/><circle cx="349.08" cy="273.53" r="1.5"/><circle cx="350.87" cy="274.81" r="1.5"/><circle cx="352.65" cy="275.1" r="1.5"/><circle cx="354.43" cy="275.74" r="1.5"/><circle cx="356.21" cy="276.45" r="1.5"/><circle cx="357.99" cy="277.56" r="1.5"/><circle cx="359.78" cy="277.78" r="1.5"/><circle cx="361.56" cy="278.19" r="1.5"/><circle cx="363.34" cy="278.64" r="1.5"/><circle cx="365.12" cy="279.17" r="1.5"/><circle cx="366.9" cy="280.1" r="1.5"/><circle cx="368.69" cy="280.62" r="1.5"/><circle cx="370.47" cy="281.19" r="1.5"/><circle cx="372.25" cy="281.72" r="1.5"/><circle cx="374.03" cy="281.77" r="1.5"/><circle cx="375.81" cy="282.49" r="1.5"/><circle cx="377.6" cy="282.74" r="1.5"/><circle cx="379.38" cy="283.38" r="1.5"/><circle cx="381.16" cy="283.73" r="1.5"/><circle cx="382.94" cy="284.11" r="1.5"/><circle cx="384.72" cy="283.95" r="1.5"/><circle cx="386.51" cy="284.77" r="1.5"/><circle cx="388.29" cy="285.13" r="1.5"/><circle cx="390.07" cy="285.5" r="1.5"/><circle cx="391.85" cy="285.36" r="1.5"/><circle cx="393.63" cy="285.79" r="1.5"/><circle cx="395.42" cy="286.12" r="1.5"/><circle cx="397.2" cy="286.45" r="1.5"/><circle cx="398.98" cy="287.32" r="1.5"/><circle cx="400.76" cy="287.67" r="1.5"/><circle cx="402.54" cy="287.92" r="1.5"/><circle cx="404.33" cy="288.38" r="1.5"/><circle cx="406.11" cy="288.58" r="1.5"/><circle cx="407.89" cy="288.66" r="1.5"/><circle cx="409.67" cy="288.8" r="1.5"/><circle cx="411.45" cy="288.99" r="1.5"/><circle cx="413.24" cy="289.52" r="1.5"/><circle cx="415.02" cy="289.29" r="1.5"/><circle cx="416.8" cy="289.45" r="1.5"/><circle cx="418.58" cy="289.62" r="1.5"/><circle cx="420.36" cy="289.52" r="1.5"/><circle cx="422.15" cy="289.87" r="1.5"/><circle cx="423.93" cy="290.17" r="1.5"/><circle cx="425.71" cy="290.83" r="1.5"/><circle cx="427.49" cy="294.06" r="1.5"/><circle cx="429.27" cy="295.65" r="1.5"/><circle cx="431.06" cy="297.29" r="1.5"/><circle cx="432.84" cy="297.9" r="1.5"/><circle cx="434.62" cy="298.56" r="1.5"/><circle cx="436.4" cy="298.51" r="1.5"/><circle cx="438.18" cy="298.19" r="1.5"/><circle cx="439.97" cy="298.45" r="1.5"/><circle cx="441.75" cy="298.48" r="1.5"/><circle cx="443.53" cy="298.69" r="1.5"/><circle cx="445.31" cy="298.46" r="1.5"/><circle cx="447.09" cy="298.71" r="1.5"/><circle cx="448.88" cy="298.67" r="1.5"/><circle cx="450.66" cy="298.58" r="1.5"/><circle cx="452.44" cy="299.11" r="1.5"/><circle cx="454.22" cy="298.82" r="1.5"/><circle cx="456" cy="299.46" r="1.5"/><circle cx="457.79" cy="299.29" r="1.5"/><circle cx="459.57" cy="299.42" r="1.5"/><circle cx="461.35" cy="299.77" r="1.5"/><circle cx="463.13" cy="300.33" r="1.5"/><circle cx="464.91" cy="300.68" r="1.5"/><circle cx="466.7" cy="300.3" r="1.5"/><circle cx="468.48" cy="300.79" r="1.5"/><circle cx="470.26" cy="300.99" r="1.5"/><circle cx="472.04" cy="301.38" r="1.5"/><circle cx="473.82" cy="301.21" r="1.5"/><circle cx="475.61" cy="301.61" r="1.5"/><circle cx="477.39" cy="301.72" r="1.5"/><circle cx="479.17" cy="302.22" r="1.5"/><circle cx="480.95" cy="302.07" r="1.5"/><circle cx="482.73" cy="302.67" r="1.5"/><circle cx="484.52" cy="302.45" r="1.5"/><circle cx="486.3" cy="302.59" r="1.5"/><circle cx="488.08" cy="303.04" r="1.5"/><circle cx="489.86" cy="303.08" r="1.5"/><circle cx="491.64" cy="303" r="1.5"/><circle cx="493.43" cy="303.46" r="1.5"/><circle cx="495.21" cy="303.28" r="1.5"/><circle cx="496.99" cy="303.84" r="1.5"/><circle cx="498.77" cy="303.93" r="1.5"/><circle cx="500.55" cy="304.13" r="1.5"/><circle cx="502.34" cy="304.18" r="1.5"/><circle cx="504.12" cy="304.16" r="1.5"/><circle cx="505.9" cy="304.33" r="1.5"/></g>
<polyline fill="none" stroke="#f0b0b0" stroke-width="0.4" points="329.48,268.59 331.26,265.67 333.05,263.2 334.83,263.02 336.61,263.48 338.39,263.96 340.17,265.74 341.96,267.22 343.74,267.87 345.52,268.77 347.3,269.78 349.08,270.33 350.87,271.06 352.65,271.48 354.43,272.16 356.21,272.67 357.99,273.04 359.78,274.01 361.56,274.69 363.34,275.24 365.12,276.4 366.9,276.57 368.69,277.05 370.47,277.53 372.25,278.34 374.03,278.97 375.81,279.39 377.6,279.63 379.38,280.01 381.16,280.31 382.94,281.13 384.72,281.52 386.51,281.82 388.29,282.42 390.07,282.71 391.85,283.41 393.63,283.7 395.42,283.82 397.2,284.62 398.98,284.5 400.76,285.18 402.54,285.48 404.33,285.74 406.11,285.97 407.89,286.72 409.67,286.55 411.45,287.1 413.24,287.5 415.02,287.15 416.8,287.3 418.58,287.69 420.36,287.81 422.15,288.15 423.93,288.61 425.71,288.71 427.49,292.22 429.27,293.87 431.06,295.02 432.84,296.45 434.62,296.84 436.4,296.83 438.18,296.4 439.97,296.91 441.75,296.85 443.53,296.68 445.31,296.85 447.09,296.67 448.88,296.55 450.66,296.55 452.44,296.74 454.22,296.79 456,297.15 457.79,297.62 459.57,297.81 461.35,298.14 463.13,298.3 464.91,298.25 466.7,298.63 468.48,298.76 470.26,299.19 472.04,299.26 473.82,299.34 475.61,299.8 477.39,300.23 479.17,300 480.95,300.62 482.73,300.31 484.52,300.64 486.3,300.8 488.08,301.26 489.86,301.52 491.64,301.54 493.43,301.42 495.21,301.88 496.99,301.67 498.77,301.74 500.55,302.26 502.34,302.22 504.12,302.38 505.9,302.49"/>
<g fill="#d0000c"><circle cx="329.48" cy="268.59" r="1.5"/><circle cx="331.26" cy="265.67" r="1.5"/><circle cx="333.05" cy="263.2" r="1.5"/><circle cx="334.83" cy="263.02" r="1.5"/><circle cx="336.61" cy="263.48" r="1.5"/><circle cx="338.39" cy="263.96" r="1.5"/><circle cx="340.17" cy="265.74" r="1.5"/><circle cx="341.96" cy="267.22" r="1.5"/><circle cx="343.74" cy="267.87" r="1.5"/><circle cx="345.52" cy="268.77" r="1.5"/><circle cx="347.3" cy="269.78" r="1.5"/><circle cx="349.08" cy="270.33" r="1.5"/><circle cx="350.87" cy="271.06" r="1.5"/><circle cx="352.65" cy="271.48" r="1.5"/><circle cx="354.43" cy="272.16" r="1.5"/><circle cx="356.21" cy="272.67" r="1.5"/><circle cx="357.99" cy="273.04" r="1.5"/><circle cx="359.78" cy="274.01" r="1.5"/><circle cx="361.56" cy="274.69" r="1.5"/><circle cx="363.34" cy="275.24" r="1.5"/><circle cx="365.12" cy="276.4" r="1.5"/><circle cx="366.9" cy="276.57" r="1.5"/><circle cx="368.69" cy="277.05" r="1.5"/><circle cx="370.47" cy="277.53" r="1.5"/><circle cx="372.25" cy="278.34" r="1.5"/><circle cx="374.03" cy="278.97" r="1.5"/><circle cx="375.81" cy="279.39" r="1.5"/><circle cx="377.6" cy="279.63" r="1.5"/><circle cx="379.38" cy="280.01" r="1.5"/><circle cx="381.16" cy="280.31" r="1.5"/><circle cx="382.94" cy="281.13" r="1.5"/><circle cx="384.72" cy="281.52" r="1.5"/><circle cx="386.51" cy="281.82" r="1.5"/><circle cx="388.29" cy="282.42" r="1.5"/><circle cx="390.07" cy="282.71" r="1.5"/><circle cx="391.85" cy="283.41" r="1.5"/><circle cx="393.63" cy="283.7" r="1.5"/><circle cx="395.42" cy="283.82" r="1.5"/><circle cx="397.2" cy="284.62" r="1.5"/><circle cx="398.98" cy="284.5" r="1.5"/><circle cx="400.76" cy="285.18" r="1.5"/><circle cx="402.54" cy="285.48" r="1.5"/><circle cx="404.33" cy="285.74" r="1.5"/><circle cx="406.11" cy="285.97" r="1.5"/><circle cx="407.89" cy="286.72" r="1.5"/><circle cx="409.67" cy="286.55" r="1.5"/><circle cx="411.45" cy="287.1" r="1.5"/><circle cx="413.24" cy="287.5" r="1.5"/><circle cx="415.02" cy="287.15" r="1.5"/><circle cx="416.8" cy="287.3" r="1.5"/><circle cx="418.58" cy="287.69" r="1.5"/><circle cx="420.36" cy="287.81" r="1.5"/><circle cx="422.15" cy="288.15" r="1.5"/><circle cx="423.93" cy="288.61" r="1.5"/><circle cx="425.71" cy="288.71" r="1.5"/><circle cx="427.49" cy="292.22" r="1.5"/><circle cx="429.27" cy="293.87" r="1.5"/><circle cx="431.06" cy="295.02" r="1.5"/><circle cx="432.84" cy="296.45" r="1.5"/><circle cx="434.62" cy="296.84" r="1.5"/><circle cx="436.4" cy="296.83" r="1.5"/><circle cx="438.18" cy="296.4" r="1.5"/><circle cx="439.97" cy="296.91" r="1.5"/><circle cx="441.75" cy="296.85" r="1.5"/><circle cx="443.53" cy="296.68" r="1.5"/><circle cx="445.31" cy="296.85" r="1.5"/><circle cx="447.09" cy="296.67" r="1.5"/><circle cx="448.88" cy="296.55" r="1.5"/><circle cx="450.66" cy="296.55" r="1.5"/><circle cx="452.44" cy="296.74" r="1.5"/><circle cx="454.22" cy="296.79" r="1.5"/><circle cx="456" cy="297.15" r="1.5"/><circle cx="457.79" cy="297.62" r="1.5"/><circle cx="459.57" cy="297.81" r="1.5"/><circle cx="461.35" cy="298.14" r="1.5"/><circle cx="463.13" cy="298.3" r="1.5"/><circle cx="464.91" cy="298.25" r="1.5"/><circle cx="466.7" cy="298.63" r="1.5"/><circle cx="468.48" cy="298.76" r="1.5"/><circle cx="470.26" cy="299.19" r="1.5"/><circle cx="472.04" cy="299.26" r="1.5"/><circle cx="473.82" cy="299.34" r="1.5"/><circle cx="475.61" cy="299.8" r="1.5"/><circle cx="477.39" cy="300.23" r="1.5"/><circle cx="479.17" cy="300" r="1.5"/><circle cx="480.95" cy="300.62" r="1.5"/><circle cx="482.73" cy="300.31" r="1.5"/><circle cx="484.52" cy="300.64" r="1.5"/><circle cx="486.3" cy="300.8" r="1.5"/><circle cx="488.08" cy="301.26" r="1.5"/><circle cx="489.86" cy="301.52" r="1.5"/><circle cx="491.64" cy="301.54" r="1.5"/><circle cx="493.43" cy="301.42" r="1.5"/><circle cx="495.21" cy="301.88" r="1.5"/><circle cx="496.99" cy="301.67" r="1.5"/><circle cx="498.77" cy="301.74" r="1.5"/><circle cx="500.55" cy="302.26" r="1.5"/><circle cx="502.34" cy="302.22" r="1.5"/><circle cx="504.12" cy="302.38" r="1.5"/><circle cx="505.9" cy="302.49" r="1.5"/></g>
<polyline fill="none" stroke="#7070d0" stroke-width="0.4" points="330.08,240.2 331.86,235.5 333.05,233.23 334.83,231.62 336.61,230.77 338.39,230.1 340.17,230.02 341.96,229.6 343.74,229.44 345.52,228.89 347.3,229.37 349.08,229.19 350.87,228.94 352.65,229.46 354.43,229.48 356.21,229.16 357.99,228.88 359.78,229.17 361.56,228.81 363.34,228.83 365.12,229.13 366.9,228.79 368.69,229.14 370.47,229.21 372.25,228.74 374.03,229.34 375.81,228.78 377.6,229.43 379.38,229.48 381.16,229.21 382.94,228.75 384.72,229.2 386.51,229.08 388.29,229.65 390.07,228.84 391.85,229.56 393.63,229.7 395.42,229.43 397.2,229.51 398.98,228.89 400.76,229.68 402.54,229.2 404.33,229.67 406.11,229.64 407.89,228.91 409.67,229.56 411.45,229.73 413.24,228.9 415.02,229.22 416.8,229.68 418.58,229.13 420.36,229.97 422.15,229.69 423.93,230.79 425.71,231.57 427.49,233.79 429.27,234.05 431.06,233.18 432.84,233.17 434.62,232.41 436.4,230.75 438.18,230.16 439.97,230.2 441.75,230.11 443.53,230.83 445.31,230.53 447.09,230.71 448.88,229.95 450.66,230.51 452.44,229.77 454.22,230.1 456,230.11 457.79,229.72 459.57,230.14 461.35,229.72 463.13,229.67 464.91,229.92 466.7,229.11 468.48,230 470.26,229.66 472.04,229.46 473.82,229.92 475.61,229.44 477.39,230.21 479.17,229.84 480.95,229.65 482.73,230.06 484.52,229.71 486.3,229.38 488.08,229.85 489.86,229.04 491.64,229.67 493.43,228.95 495.21,229.06 496.99,228.97 498.77,228.11 500.55,227.86 502.34,227.42 504.12,227.27 505.9,227.52"/>
<g fill="#0c0cd0"><circle cx="330.08" cy="240.2" r="1.5"/><circle cx="331.86" cy="235.5" r="1.5"/><circle cx="333.05" cy="233.23" r="1.5"/><circle cx="334.83" cy="231.62" r="1.5"/><circle cx="336.61" cy="230.77" r="1.5"/><circle cx="338.39" cy="230.1" r="1.5"/><circle cx="340.17" cy="230.02" r="1.5"/><circle cx="341.96" cy="229.6" r="1.5"/><circle cx="343.74" cy="229.44" r="1.5"/><circle cx="345.52" cy="228.89" r="1.5"/><circle cx="347.3" cy="229.37" r="1.5"/><circle cx="349.08" cy="229.19" r="1.5"/><circle cx="350.87" cy="228.94" r="1.5"/><circle cx="352.65" cy="229.46" r="1.5"/><circle cx="354.43" cy="229.48" r="1.5"/><circle cx="356.21" cy="229.16" r="1.5"/><circle cx="357.99" cy="228.88" r="1.5"/><circle cx="359.78" cy="229.17" r="1.5"/><circle cx="361.56" cy="228.81" r="1.5"/><circle cx="363.34" cy="228.83" r="1.5"/><circle cx="365.12" cy="229.13" r="1.5"/><circle cx="366.9" cy="228.79" r="1.5"/><circle cx="368.69" cy="229.14" r="1.5"/><circle cx="370.47" cy="229.21" r="1.5"/><circle cx="372.25" cy="228.74" r="1.5"/><circle cx="374.03" cy="229.34" r="1.5"/><circle cx="375.81" cy="228.78" r="1.5"/><circle cx="377.6" cy="229.43" r="1.5"/><circle cx="379.38" cy="229.48" r="1.5"/><circle cx="381.16" cy="229.21" r="1.5"/><circle cx="382.94" cy="228.75" r="1.5"/><circle cx="384.72" cy="229.2" r="1.5"/><circle cx="386.51" cy="229.08" r="1.5"/><circle cx="388.29" cy="229.65" r="1.5"/><circle cx="390.07" cy="228.84" r="1.5"/><circle cx="391.85" cy="229.56" r="1.5"/><circle cx="393.63" cy="229.7" r="1.5"/><circle cx="395.42" cy="229.43" r="1.5"/><circle cx="397.2" cy="229.51" r="1.5"/><circle cx="398.98" cy="228.89" r="1.5"/><circle cx="400.76" cy="229.68" r="1.5"/><circle cx="402.54" cy="229.2" r="1.5"/><circle cx="404.33" cy="229.67" r="1.5"/><circle cx="406.11" cy="229.64" r="1.5"/><circle cx="407.89" cy="228.91" r="1.5"/><circle cx="409.67" cy="229.56" r="1.5"/><circle cx="411.45" cy="229.73" r="1.5"/><circle cx="413.24" cy="228.9" r="1.5"/><circle cx="415.02" cy="229.22" r="1.5"/><circle cx="416.8" cy="229.68" r="1.5"/><circle cx="418.58" cy="229.13" r="1.5"/><circle cx="420.36" cy="229.97" r="1.5"/><circle cx="422.15" cy="229.69" r="1.5"/><circle cx="423.93" cy="230.79" r="1.5"/><circle cx="425.71" cy="231.57" r="1.5"/><circle cx="427.49" cy="233.79" r="1.5"/><circle cx="429.27" cy="234.05" r="1.5"/><circle cx="431.06" cy="233.18" r="1.5"/><circle cx="432.84" cy="233.17" r="1.5"/><circle cx="434.62" cy="232.41" r="1.5"/><circle cx="436.4" cy="230.75" r="1.5"/><circle cx="438.18" cy="230.16" r="1.5"/><circle cx="439.97" cy="230.2" r="1.5"/><circle cx="441.75" cy="230.11" r="1.5"/><circle cx="443.53" cy="230.83" r="1.5"/><circle cx="445.31" cy="230.53" r="1.5"/><circle cx="447.09" cy="230.71" r="1.5"/><circle cx="448.88" cy="229.95" r="1.5"/><circle cx="450.66" cy="230.51" r="1.5"/><circle cx="452.44" cy="229.77" r="1.5"/><circle cx="454.22" cy="230.1" r="1.5"/><circle cx="456" cy="230.11" r="1.5"/><circle cx="457.79" cy="229.72" r="1.5"/><circle cx="459.57" cy="230.14" r="1.5"/><circle cx="461.35" cy="229.72" r="1.5"/><circle cx="463.13" cy="229.67" r="1.5"/><circle cx="464.91" cy="229.92" r="1.5"/><circle cx="466.7" cy="229.11" r="1.5"/><circle cx="468.48" cy="230" r="1.5"/><circle cx="470.26" cy="229.66" r="1.5"/><circle cx="472.04" cy="229.46" r="1.5"/><circle cx="473.82" cy="229.92" r="1.5"/><circle cx="475.61" cy="229.44" r="1.5"/><circle cx="477.39" cy="230.21" r="1.5"/><circle cx="479.17" cy="229.84" r="1.5"/><circle cx="480.95" cy="229.65" r="1.5"/><circle cx="482.73" cy="230.06" r="1.5"/><circle cx="484.52" cy="229.71" r="1.5"/><circle cx="486.3" cy="229.38" r="1.5"/><circle cx="488.08" cy="229.85" r="1.5"/><circle cx="489.86" cy="229.04" r="1.5"/><circle cx="491.64" cy="229.67" r="1.5"/><circle cx="493.43" cy="228.95" r="1.5"/><circle cx="495.21" cy="229.06" r="1.5"/><circle cx="496.99" cy="228.97" r="1.5"/><circle cx="498.77" cy="228.11" r="1.5"/><circle cx="500.55" cy="227.86" r="1.5"/><circle cx="502.34" cy="227.42" r="1.5"/><circle cx="504.12" cy="227.27" r="1.5"/><circle cx="505.9" cy="227.52" r="1.5"/></g>
</g>
<path d="M328.3 210.5H506.6 M328.3 356.1H506.6" stroke="#707070" stroke-width="1.1" fill="none"/>
<path d="M328.3 210V356.6" stroke="#c898a4" stroke-width="1" fill="none"/>
<path d="M506.6 210V356.6" stroke="#8c8cba" stroke-width="1" fill="none"/>
<text x="328.3" y="368.4" text-anchor="middle" class="tk" stroke="#1c1c1c">0</text>
<text x="363.96" y="368.4" text-anchor="middle" class="tk" stroke="#1c1c1c">20</text>
<text x="399.62" y="368.4" text-anchor="middle" class="tk" stroke="#1c1c1c">40</text>
<text x="435.28" y="368.4" text-anchor="middle" class="tk" stroke="#1c1c1c">60</text>
<text x="470.94" y="368.4" text-anchor="middle" class="tk" stroke="#1c1c1c">80</text>
<text x="506.6" y="368.4" text-anchor="middle" class="tk" stroke="#1c1c1c">100</text>
<text x="325.5" y="359.6" text-anchor="end" class="tk" fill="#b0222e" stroke="#b0222e">0</text>
<text x="325.5" y="338.8" text-anchor="end" class="tk" fill="#b0222e" stroke="#b0222e">200</text>
<text x="325.5" y="318" text-anchor="end" class="tk" fill="#b0222e" stroke="#b0222e">400</text>
<text x="325.5" y="297.2" text-anchor="end" class="tk" fill="#b0222e" stroke="#b0222e">600</text>
<text x="325.5" y="276.4" text-anchor="end" class="tk" fill="#b0222e" stroke="#b0222e">800</text>
<text x="325.5" y="255.6" text-anchor="end" class="tk" fill="#b0222e" stroke="#b0222e">1000</text>
<text x="325.5" y="234.8" text-anchor="end" class="tk" fill="#b0222e" stroke="#b0222e">1200</text>
<text x="510.3" y="359.8" class="tk" fill="#262690" stroke="#262690">0</text>
<text x="510.3" y="335.53" class="tk" fill="#262690" stroke="#262690">20</text>
<text x="510.3" y="311.27" class="tk" fill="#262690" stroke="#262690">40</text>
<text x="510.3" y="287" class="tk" fill="#262690" stroke="#262690">60</text>
<text x="510.3" y="262.73" class="tk" fill="#262690" stroke="#262690">80</text>
<text x="510.3" y="238.47" class="tk" fill="#262690" stroke="#262690">100</text>
<text transform="translate(289.6 337.2) rotate(-90)" class="at" fill="#b0222e" stroke="#b0222e">Capacity (mAh/g)</text>
<text transform="translate(541 356.8) rotate(-90)" class="at" fill="#262690" stroke="#262690">Coulombic efficiency (%)</text>
<text x="380.49" y="388.2" class="at" stroke="#1c1c1c">Cycle number</text>
<clipPath id="cf"><rect x="328.3" y="392.7" width="179.9" height="146.6"/></clipPath>
<path d="M346.13 539.3v-1.8M346.13 394.3v1.8M363.96 539.3v-2.8M363.96 394.3v2.8M381.79 539.3v-1.8M381.79 394.3v1.8M399.62 539.3v-2.8M399.62 394.3v2.8M417.45 539.3v-1.8M417.45 394.3v1.8M435.28 539.3v-2.8M435.28 394.3v2.8M453.11 539.3v-1.8M453.11 394.3v1.8M470.94 539.3v-2.8M470.94 394.3v2.8M488.77 539.3v-1.8M488.77 394.3v1.8" stroke="#555" stroke-width="0.8" fill="none"/>
<path d="M328.3 528.94h1.8M328.3 518.59h2.8M328.3 508.23h1.8M328.3 497.87h2.8M328.3 487.51h1.8M328.3 477.16h2.8M328.3 466.8h1.8M328.3 456.44h2.8M328.3 446.09h1.8M328.3 435.73h2.8M328.3 425.37h1.8M328.3 415.01h2.8M328.3 404.66h1.8" stroke="#b06070" stroke-width="0.8" fill="none"/>
<path d="M506.6 527.22h-1.8M506.6 515.13h-2.8M506.6 503.05h-1.8M506.6 490.97h-2.8M506.6 478.88h-1.8M506.6 466.8h-2.8M506.6 454.72h-1.8M506.6 442.63h-2.8M506.6 430.55h-1.8M506.6 418.47h-2.8M506.6 406.38h-1.8" stroke="#6060a8" stroke-width="0.8" fill="none"/>
<g clip-path="url(#cf)">
<polyline fill="none" stroke="#999" stroke-width="0.4" points="329.48,451.61 331.26,453.89 333.05,454.19 334.83,458.52 336.61,458.82 338.39,465.28 340.17,465.58 341.96,468.05 343.74,468.35 345.52,469.02 347.3,469.32 349.08,470.03 350.87,470.33 352.65,472.25 354.43,472.55 356.21,473.01 357.99,473.31 359.78,474.73 361.56,475.03 363.34,476.42 365.12,476.72 366.9,478.16 368.69,478.46 370.47,479.81 372.25,480.11 374.03,480.88 375.81,481.18 377.6,482.65 379.38,482.95 381.16,484.44 382.94,484.74 384.72,485.2 386.51,485.5 388.29,485.4 390.07,485.7 391.85,487.09 393.63,487.61 395.42,487.69 397.2,488.67 398.98,489.29 400.76,490.39 402.54,491.3 404.33,491.8 406.11,490.12 407.89,489.73 409.67,491.51 411.45,491.34 413.24,492.23 415.02,492.47 416.8,492.52 418.58,493.2 420.36,493.05 422.15,493.37 423.93,493.63 425.71,494.05 427.49,493.84 429.27,494.25 431.06,494.48 432.84,494.82 434.62,495.27 436.4,495.07 438.18,495.73 439.97,495.61 441.75,495.91 443.53,495.94 445.31,496.34 447.09,496.92 448.88,496.87 450.66,497.18 452.44,497.01 454.22,497.19 456,497.37 457.79,497.79 459.57,498.01 461.35,498.31 463.13,497.89 464.91,498.61 466.7,498.91 468.48,498.8 470.26,498.56 472.04,498.92 473.82,498.84 475.61,499.14 477.39,499.87 479.17,499.77 480.95,499.95 482.73,500.2 484.52,500.43 486.3,500.34 488.08,500.48 489.86,500.62 491.64,500.81 493.43,500.86 495.21,501.06 496.99,500.82 498.77,501.31 500.55,501.27 502.34,501.64 504.12,501.24 505.9,501.44"/>
<g fill="#000"><circle cx="329.48" cy="451.61" r="1.5"/><circle cx="331.26" cy="453.89" r="1.5"/><circle cx="333.05" cy="454.19" r="1.5"/><circle cx="334.83" cy="458.52" r="1.5"/><circle cx="336.61" cy="458.82" r="1.5"/><circle cx="338.39" cy="465.28" r="1.5"/><circle cx="340.17" cy="465.58" r="1.5"/><circle cx="341.96" cy="468.05" r="1.5"/><circle cx="343.74" cy="468.35" r="1.5"/><circle cx="345.52" cy="469.02" r="1.5"/><circle cx="347.3" cy="469.32" r="1.5"/><circle cx="349.08" cy="470.03" r="1.5"/><circle cx="350.87" cy="470.33" r="1.5"/><circle cx="352.65" cy="472.25" r="1.5"/><circle cx="354.43" cy="472.55" r="1.5"/><circle cx="356.21" cy="473.01" r="1.5"/><circle cx="357.99" cy="473.31" r="1.5"/><circle cx="359.78" cy="474.73" r="1.5"/><circle cx="361.56" cy="475.03" r="1.5"/><circle cx="363.34" cy="476.42" r="1.5"/><circle cx="365.12" cy="476.72" r="1.5"/><circle cx="366.9" cy="478.16" r="1.5"/><circle cx="368.69" cy="478.46" r="1.5"/><circle cx="370.47" cy="479.81" r="1.5"/><circle cx="372.25" cy="480.11" r="1.5"/><circle cx="374.03" cy="480.88" r="1.5"/><circle cx="375.81" cy="481.18" r="1.5"/><circle cx="377.6" cy="482.65" r="1.5"/><circle cx="379.38" cy="482.95" r="1.5"/><circle cx="381.16" cy="484.44" r="1.5"/><circle cx="382.94" cy="484.74" r="1.5"/><circle cx="384.72" cy="485.2" r="1.5"/><circle cx="386.51" cy="485.5" r="1.5"/><circle cx="388.29" cy="485.4" r="1.5"/><circle cx="390.07" cy="485.7" r="1.5"/><circle cx="391.85" cy="487.09" r="1.5"/><circle cx="393.63" cy="487.61" r="1.5"/><circle cx="395.42" cy="487.69" r="1.5"/><circle cx="397.2" cy="488.67" r="1.5"/><circle cx="398.98" cy="489.29" r="1.5"/><circle cx="400.76" cy="490.39" r="1.5"/><circle cx="402.54" cy="491.3" r="1.5"/><circle cx="404.33" cy="491.8" r="1.5"/><circle cx="406.11" cy="490.12" r="1.5"/><circle cx="407.89" cy="489.73" r="1.5"/><circle cx="409.67" cy="491.51" r="1.5"/><circle cx="411.45" cy="491.34" r="1.5"/><circle cx="413.24" cy="492.23" r="1.5"/><circle cx="415.02" cy="492.47" r="1.5"/><circle cx="416.8" cy="492.52" r="1.5"/><circle cx="418.58" cy="493.2" r="1.5"/><circle cx="420.36" cy="493.05" r="1.5"/><circle cx="422.15" cy="493.37" r="1.5"/><circle cx="423.93" cy="493.63" r="1.5"/><circle cx="425.71" cy="494.05" r="1.5"/><circle cx="427.49" cy="493.84" r="1.5"/><circle cx="429.27" cy="494.25" r="1.5"/><circle cx="431.06" cy="494.48" r="1.5"/><circle cx="432.84" cy="494.82" r="1.5"/><circle cx="434.62" cy="495.27" r="1.5"/><circle cx="436.4" cy="495.07" r="1.5"/><circle cx="438.18" cy="495.73" r="1.5"/><circle cx="439.97" cy="495.61" r="1.5"/><circle cx="441.75" cy="495.91" r="1.5"/><circle cx="443.53" cy="495.94" r="1.5"/><circle cx="445.31" cy="496.34" r="1.5"/><circle cx="447.09" cy="496.92" r="1.5"/><circle cx="448.88" cy="496.87" r="1.5"/><circle cx="450.66" cy="497.18" r="1.5"/><circle cx="452.44" cy="497.01" r="1.5"/><circle cx="454.22" cy="497.19" r="1.5"/><circle cx="456" cy="497.37" r="1.5"/><circle cx="457.79" cy="497.79" r="1.5"/><circle cx="459.57" cy="498.01" r="1.5"/><circle cx="461.35" cy="498.31" r="1.5"/><circle cx="463.13" cy="497.89" r="1.5"/><circle cx="464.91" cy="498.61" r="1.5"/><circle cx="466.7" cy="498.91" r="1.5"/><circle cx="468.48" cy="498.8" r="1.5"/><circle cx="470.26" cy="498.56" r="1.5"/><circle cx="472.04" cy="498.92" r="1.5"/><circle cx="473.82" cy="498.84" r="1.5"/><circle cx="475.61" cy="499.14" r="1.5"/><circle cx="477.39" cy="499.87" r="1.5"/><circle cx="479.17" cy="499.77" r="1.5"/><circle cx="480.95" cy="499.95" r="1.5"/><circle cx="482.73" cy="500.2" r="1.5"/><circle cx="484.52" cy="500.43" r="1.5"/><circle cx="486.3" cy="500.34" r="1.5"/><circle cx="488.08" cy="500.48" r="1.5"/><circle cx="489.86" cy="500.62" r="1.5"/><circle cx="491.64" cy="500.81" r="1.5"/><circle cx="493.43" cy="500.86" r="1.5"/><circle cx="495.21" cy="501.06" r="1.5"/><circle cx="496.99" cy="500.82" r="1.5"/><circle cx="498.77" cy="501.31" r="1.5"/><circle cx="500.55" cy="501.27" r="1.5"/><circle cx="502.34" cy="501.64" r="1.5"/><circle cx="504.12" cy="501.24" r="1.5"/><circle cx="505.9" cy="501.44" r="1.5"/></g>
<polyline fill="none" stroke="#f0b0b0" stroke-width="0.4" points="329.48,437.51 331.26,447.09 333.05,447.39 334.83,451.58 336.61,451.88 338.39,455.69 340.17,455.99 341.96,460.15 343.74,460.45 345.52,459.95 347.3,460.25 349.08,461.64 350.87,461.94 352.65,464.17 354.43,464.47 356.21,466.27 357.99,466.57 359.78,468.11 361.56,468.41 363.34,469.86 365.12,470.16 366.9,471.93 368.69,472.23 370.47,473.36 372.25,473.66 374.03,474.55 375.81,474.85 377.6,476.49 379.38,476.79 381.16,477.83 382.94,478.13 384.72,479.01 386.51,479.31 388.29,478.68 390.07,478.98 391.85,481.91 393.63,482.99 395.42,483.88 397.2,484.36 398.98,484.94 400.76,486.32 402.54,487.12 404.33,487.73 406.11,486.67 407.89,485.94 409.67,486.67 411.45,487.53 413.24,487.99 415.02,488.55 416.8,488.71 418.58,489.68 420.36,489.54 422.15,490.09 423.93,490.53 425.71,490.82 427.49,490.82 429.27,490.95 431.06,491.43 432.84,491.36 434.62,492.19 436.4,492.06 438.18,492.7 439.97,492.48 441.75,492.8 443.53,492.92 445.31,493.28 447.09,493.29 448.88,493.34 450.66,494.1 452.44,493.93 454.22,494.07 456,494.28 457.79,494.58 459.57,494.7 461.35,495.02 463.13,495.2 464.91,495.12 466.7,495.74 468.48,495.85 470.26,495.38 472.04,496.17 473.82,496.4 475.61,496.48 477.39,496.13 479.17,496.85 480.95,496.86 482.73,496.54 484.52,496.7 486.3,497.62 488.08,497.54 489.86,497.38 491.64,497.42 493.43,497.61 495.21,497.84 496.99,498.43 498.77,498.24 500.55,498.24 502.34,499 504.12,499.07 505.9,498.73"/>
<g fill="#d0000c"><circle cx="329.48" cy="437.51" r="1.5"/><circle cx="331.26" cy="447.09" r="1.5"/><circle cx="333.05" cy="447.39" r="1.5"/><circle cx="334.83" cy="451.58" r="1.5"/><circle cx="336.61" cy="451.88" r="1.5"/><circle cx="338.39" cy="455.69" r="1.5"/><circle cx="340.17" cy="455.99" r="1.5"/><circle cx="341.96" cy="460.15" r="1.5"/><circle cx="343.74" cy="460.45" r="1.5"/><circle cx="345.52" cy="459.95" r="1.5"/><circle cx="347.3" cy="460.25" r="1.5"/><circle cx="349.08" cy="461.64" r="1.5"/><circle cx="350.87" cy="461.94" r="1.5"/><circle cx="352.65" cy="464.17" r="1.5"/><circle cx="354.43" cy="464.47" r="1.5"/><circle cx="356.21" cy="466.27" r="1.5"/><circle cx="357.99" cy="466.57" r="1.5"/><circle cx="359.78" cy="468.11" r="1.5"/><circle cx="361.56" cy="468.41" r="1.5"/><circle cx="363.34" cy="469.86" r="1.5"/><circle cx="365.12" cy="470.16" r="1.5"/><circle cx="366.9" cy="471.93" r="1.5"/><circle cx="368.69" cy="472.23" r="1.5"/><circle cx="370.47" cy="473.36" r="1.5"/><circle cx="372.25" cy="473.66" r="1.5"/><circle cx="374.03" cy="474.55" r="1.5"/><circle cx="375.81" cy="474.85" r="1.5"/><circle cx="377.6" cy="476.49" r="1.5"/><circle cx="379.38" cy="476.79" r="1.5"/><circle cx="381.16" cy="477.83" r="1.5"/><circle cx="382.94" cy="478.13" r="1.5"/><circle cx="384.72" cy="479.01" r="1.5"/><circle cx="386.51" cy="479.31" r="1.5"/><circle cx="388.29" cy="478.68" r="1.5"/><circle cx="390.07" cy="478.98" r="1.5"/><circle cx="391.85" cy="481.91" r="1.5"/><circle cx="393.63" cy="482.99" r="1.5"/><circle cx="395.42" cy="483.88" r="1.5"/><circle cx="397.2" cy="484.36" r="1.5"/><circle cx="398.98" cy="484.94" r="1.5"/><circle cx="400.76" cy="486.32" r="1.5"/><circle cx="402.54" cy="487.12" r="1.5"/><circle cx="404.33" cy="487.73" r="1.5"/><circle cx="406.11" cy="486.67" r="1.5"/><circle cx="407.89" cy="485.94" r="1.5"/><circle cx="409.67" cy="486.67" r="1.5"/><circle cx="411.45" cy="487.53" r="1.5"/><circle cx="413.24" cy="487.99" r="1.5"/><circle cx="415.02" cy="488.55" r="1.5"/><circle cx="416.8" cy="488.71" r="1.5"/><circle cx="418.58" cy="489.68" r="1.5"/><circle cx="420.36" cy="489.54" r="1.5"/><circle cx="422.15" cy="490.09" r="1.5"/><circle cx="423.93" cy="490.53" r="1.5"/><circle cx="425.71" cy="490.82" r="1.5"/><circle cx="427.49" cy="490.82" r="1.5"/><circle cx="429.27" cy="490.95" r="1.5"/><circle cx="431.06" cy="491.43" r="1.5"/><circle cx="432.84" cy="491.36" r="1.5"/><circle cx="434.62" cy="492.19" r="1.5"/><circle cx="436.4" cy="492.06" r="1.5"/><circle cx="438.18" cy="492.7" r="1.5"/><circle cx="439.97" cy="492.48" r="1.5"/><circle cx="441.75" cy="492.8" r="1.5"/><circle cx="443.53" cy="492.92" r="1.5"/><circle cx="445.31" cy="493.28" r="1.5"/><circle cx="447.09" cy="493.29" r="1.5"/><circle cx="448.88" cy="493.34" r="1.5"/><circle cx="450.66" cy="494.1" r="1.5"/><circle cx="452.44" cy="493.93" r="1.5"/><circle cx="454.22" cy="494.07" r="1.5"/><circle cx="456" cy="494.28" r="1.5"/><circle cx="457.79" cy="494.58" r="1.5"/><circle cx="459.57" cy="494.7" r="1.5"/><circle cx="461.35" cy="495.02" r="1.5"/><circle cx="463.13" cy="495.2" r="1.5"/><circle cx="464.91" cy="495.12" r="1.5"/><circle cx="466.7" cy="495.74" r="1.5"/><circle cx="468.48" cy="495.85" r="1.5"/><circle cx="470.26" cy="495.38" r="1.5"/><circle cx="472.04" cy="496.17" r="1.5"/><circle cx="473.82" cy="496.4" r="1.5"/><circle cx="475.61" cy="496.48" r="1.5"/><circle cx="477.39" cy="496.13" r="1.5"/><circle cx="479.17" cy="496.85" r="1.5"/><circle cx="480.95" cy="496.86" r="1.5"/><circle cx="482.73" cy="496.54" r="1.5"/><circle cx="484.52" cy="496.7" r="1.5"/><circle cx="486.3" cy="497.62" r="1.5"/><circle cx="488.08" cy="497.54" r="1.5"/><circle cx="489.86" cy="497.38" r="1.5"/><circle cx="491.64" cy="497.42" r="1.5"/><circle cx="493.43" cy="497.61" r="1.5"/><circle cx="495.21" cy="497.84" r="1.5"/><circle cx="496.99" cy="498.43" r="1.5"/><circle cx="498.77" cy="498.24" r="1.5"/><circle cx="500.55" cy="498.24" r="1.5"/><circle cx="502.34" cy="499" r="1.5"/><circle cx="504.12" cy="499.07" r="1.5"/><circle cx="505.9" cy="498.73" r="1.5"/></g>
<polyline fill="none" stroke="#7070d0" stroke-width="0.4" points="329.48,401.75 331.26,408.3 333.05,408.68 334.83,409.81 336.61,406.09 338.39,404.44 340.17,405.74 341.96,405.6 343.74,404.84 345.52,405.82 347.3,405.75 349.08,404.83 350.87,405.42 352.65,405.43 354.43,405.27 356.21,404.94 357.99,404.64 359.78,404.94 361.56,405.27 363.34,404.59 365.12,405.23 366.9,406.15 368.69,405.42 370.47,405.15 372.25,406.9 374.03,407.95 375.81,408.28 377.6,407.65 379.38,406.48 381.16,405.93 382.94,405.57 384.72,406.37 386.51,407.39 388.29,408.62 390.07,409.6 391.85,409.27 393.63,408.64 395.42,407.94 397.2,407.85 398.98,408.08 400.76,407.85 402.54,408.31 404.33,408.84 406.11,409.62 407.89,408.65 409.67,407.63 411.45,408.35 413.24,407.54 415.02,407.77 416.8,408.29 418.58,408.09 420.36,407.98 422.15,407.63 423.93,407.32 425.71,407.61 427.49,407.03 429.27,407.01 431.06,407.09 432.84,406.71 434.62,407.01 436.4,408.17 438.18,409.89 439.97,410.02 441.75,409.64 443.53,408.92 445.31,408.38 447.09,408.63 448.88,408.3 450.66,408.47 452.44,408.52 454.22,408.01 456,408.09 457.79,408.22 459.57,408.59 461.35,409.63 463.13,410.29 464.91,410.38 466.7,410.2 468.48,410.03 470.26,410.05 472.04,409.78 473.82,409.65 475.61,409.41 477.39,409.22 479.17,409.44 480.95,408.9 482.73,409.13 484.52,409.4 486.3,409.28 488.08,409.15 489.86,408.76 491.64,408.87 493.43,408.85 495.21,408.96 496.99,408.73 498.77,408.92 500.55,409.11 502.34,408.4 504.12,408.78 505.9,408.85"/>
<g fill="#0c0cd0"><circle cx="329.48" cy="401.75" r="1.5"/><circle cx="331.26" cy="408.3" r="1.5"/><circle cx="333.05" cy="408.68" r="1.5"/><circle cx="334.83" cy="409.81" r="1.5"/><circle cx="336.61" cy="406.09" r="1.5"/><circle cx="338.39" cy="404.44" r="1.5"/><circle cx="340.17" cy="405.74" r="1.5"/><circle cx="341.96" cy="405.6" r="1.5"/><circle cx="343.74" cy="404.84" r="1.5"/><circle cx="345.52" cy="405.82" r="1.5"/><circle cx="347.3" cy="405.75" r="1.5"/><circle cx="349.08" cy="404.83" r="1.5"/><circle cx="350.87" cy="405.42" r="1.5"/><circle cx="352.65" cy="405.43" r="1.5"/><circle cx="354.43" cy="405.27" r="1.5"/><circle cx="356.21" cy="404.94" r="1.5"/><circle cx="357.99" cy="404.64" r="1.5"/><circle cx="359.78" cy="404.94" r="1.5"/><circle cx="361.56" cy="405.27" r="1.5"/><circle cx="363.34" cy="404.59" r="1.5"/><circle cx="365.12" cy="405.23" r="1.5"/><circle cx="366.9" cy="406.15" r="1.5"/><circle cx="368.69" cy="405.42" r="1.5"/><circle cx="370.47" cy="405.15" r="1.5"/><circle cx="372.25" cy="406.9" r="1.5"/><circle cx="374.03" cy="407.95" r="1.5"/><circle cx="375.81" cy="408.28" r="1.5"/><circle cx="377.6" cy="407.65" r="1.5"/><circle cx="379.38" cy="406.48" r="1.5"/><circle cx="381.16" cy="405.93" r="1.5"/><circle cx="382.94" cy="405.57" r="1.5"/><circle cx="384.72" cy="406.37" r="1.5"/><circle cx="386.51" cy="407.39" r="1.5"/><circle cx="388.29" cy="408.62" r="1.5"/><circle cx="390.07" cy="409.6" r="1.5"/><circle cx="391.85" cy="409.27" r="1.5"/><circle cx="393.63" cy="408.64" r="1.5"/><circle cx="395.42" cy="407.94" r="1.5"/><circle cx="397.2" cy="407.85" r="1.5"/><circle cx="398.98" cy="408.08" r="1.5"/><circle cx="400.76" cy="407.85" r="1.5"/><circle cx="402.54" cy="408.31" r="1.5"/><circle cx="404.33" cy="408.84" r="1.5"/><circle cx="406.11" cy="409.62" r="1.5"/><circle cx="407.89" cy="408.65" r="1.5"/><circle cx="409.67" cy="407.63" r="1.5"/><circle cx="411.45" cy="408.35" r="1.5"/><circle cx="413.24" cy="407.54" r="1.5"/><circle cx="415.02" cy="407.77" r="1.5"/><circle cx="416.8" cy="408.29" r="1.5"/><circle cx="418.58" cy="408.09" r="1.5"/><circle cx="420.36" cy="407.98" r="1.5"/><circle cx="422.15" cy="407.63" r="1.5"/><circle cx="423.93" cy="407.32" r="1.5"/><circle cx="425.71" cy="407.61" r="1.5"/><circle cx="427.49" cy="407.03" r="1.5"/><circle cx="429.27" cy="407.01" r="1.5"/><circle cx="431.06" cy="407.09" r="1.5"/><circle cx="432.84" cy="406.71" r="1.5"/><circle cx="434.62" cy="407.01" r="1.5"/><circle cx="436.4" cy="408.17" r="1.5"/><circle cx="438.18" cy="409.89" r="1.5"/><circle cx="439.97" cy="410.02" r="1.5"/><circle cx="441.75" cy="409.64" r="1.5"/><circle cx="443.53" cy="408.92" r="1.5"/><circle cx="445.31" cy="408.38" r="1.5"/><circle cx="447.09" cy="408.63" r="1.5"/><circle cx="448.88" cy="408.3" r="1.5"/><circle cx="450.66" cy="408.47" r="1.5"/><circle cx="452.44" cy="408.52" r="1.5"/><circle cx="454.22" cy="408.01" r="1.5"/><circle cx="456" cy="408.09" r="1.5"/><circle cx="457.79" cy="408.22" r="1.5"/><circle cx="459.57" cy="408.59" r="1.5"/><circle cx="461.35" cy="409.63" r="1.5"/><circle cx="463.13" cy="410.29" r="1.5"/><circle cx="464.91" cy="410.38" r="1.5"/><circle cx="466.7" cy="410.2" r="1.5"/><circle cx="468.48" cy="410.03" r="1.5"/><circle cx="470.26" cy="410.05" r="1.5"/><circle cx="472.04" cy="409.78" r="1.5"/><circle cx="473.82" cy="409.65" r="1.5"/><circle cx="475.61" cy="409.41" r="1.5"/><circle cx="477.39" cy="409.22" r="1.5"/><circle cx="479.17" cy="409.44" r="1.5"/><circle cx="480.95" cy="408.9" r="1.5"/><circle cx="482.73" cy="409.13" r="1.5"/><circle cx="484.52" cy="409.4" r="1.5"/><circle cx="486.3" cy="409.28" r="1.5"/><circle cx="488.08" cy="409.15" r="1.5"/><circle cx="489.86" cy="408.76" r="1.5"/><circle cx="491.64" cy="408.87" r="1.5"/><circle cx="493.43" cy="408.85" r="1.5"/><circle cx="495.21" cy="408.96" r="1.5"/><circle cx="496.99" cy="408.73" r="1.5"/><circle cx="498.77" cy="408.92" r="1.5"/><circle cx="500.55" cy="409.11" r="1.5"/><circle cx="502.34" cy="408.4" r="1.5"/><circle cx="504.12" cy="408.78" r="1.5"/><circle cx="505.9" cy="408.85" r="1.5"/></g>
</g>
<path d="M328.3 394.3H506.6 M328.3 539.3H506.6" stroke="#707070" stroke-width="1.1" fill="none"/>
<path d="M328.3 393.8V539.8" stroke="#c898a4" stroke-width="1" fill="none"/>
<path d="M506.6 393.8V539.8" stroke="#8c8cba" stroke-width="1" fill="none"/>
<text x="328.3" y="551.6" text-anchor="middle" class="tk" stroke="#1c1c1c">0</text>
<text x="363.96" y="551.6" text-anchor="middle" class="tk" stroke="#1c1c1c">20</text>
<text x="399.62" y="551.6" text-anchor="middle" class="tk" stroke="#1c1c1c">40</text>
<text x="435.28" y="551.6" text-anchor="middle" class="tk" stroke="#1c1c1c">60</text>
<text x="470.94" y="551.6" text-anchor="middle" class="tk" stroke="#1c1c1c">80</text>
<text x="506.6" y="551.6" text-anchor="middle" class="tk" stroke="#1c1c1c">100</text>
<text x="325.5" y="542.8" text-anchor="end" class="tk" fill="#b0222e" stroke="#b0222e">0</text>
<text x="325.5" y="522.09" text-anchor="end" class="tk" fill="#b0222e" stroke="#b0222e">200</text>
<text x="325.5" y="501.37" text-anchor="end" class="tk" fill="#b0222e" stroke="#b0222e">400</text>
<text x="325.5" y="480.66" text-anchor="end" class="tk" fill="#b0222e" stroke="#b0222e">600</text>
<text x="325.5" y="459.94" text-anchor="end" class="tk" fill="#b0222e" stroke="#b0222e">800</text>
<text x="325.5" y="439.23" text-anchor="end" class="tk" fill="#b0222e" stroke="#b0222e">1000</text>
<text x="325.5" y="418.51" text-anchor="end" class="tk" fill="#b0222e" stroke="#b0222e">1200</text>
<text x="510.3" y="543" class="tk" fill="#262690" stroke="#262690">0</text>
<text x="510.3" y="518.83" class="tk" fill="#262690" stroke="#262690">20</text>
<text x="510.3" y="494.67" class="tk" fill="#262690" stroke="#262690">40</text>
<text x="510.3" y="470.5" class="tk" fill="#262690" stroke="#262690">60</text>
<text x="510.3" y="446.33" class="tk" fill="#262690" stroke="#262690">80</text>
<text x="510.3" y="422.17" class="tk" fill="#262690" stroke="#262690">100</text>
<text transform="translate(289.6 521) rotate(-90)" class="at" fill="#b0222e" stroke="#b0222e">Capacity (mAh/g)</text>
<text transform="translate(541 540.6) rotate(-90)" class="at" fill="#262690" stroke="#262690">Coulombic efficiency (%)</text>
<text x="380.99" y="571.2" class="at" stroke="#1c1c1c">Cycle number</text>
<text x="29.25" y="19.55" font-size="15.4" stroke="#1c1c1c">(a)</text>
<text x="29.25" y="203.55" font-size="15.4" stroke="#1c1c1c">(b)</text>
<text x="29.25" y="387.3" font-size="15.4" stroke="#1c1c1c">(c)</text>
<text x="305.85" y="20.9" font-size="15.4" stroke="#1c1c1c">(d)</text>
<text x="304.75" y="204.25" font-size="15.4" stroke="#1c1c1c">(e)</text>
<text x="304.25" y="387.8" font-size="15.4" stroke="#1c1c1c">(f)</text>
<text x="96.9" y="17.8" font-size="14" textLength="90.88" lengthAdjust="spacingAndGlyphs" stroke="#1c1c1c">SP:S Cathodes</text>
<text x="343" y="17.8" font-size="14" textLength="148.27" lengthAdjust="spacingAndGlyphs" stroke="#1c1c1c">SP:S Cathodes with SSE</text>
<path d="M80.8 79h19" stroke="#b0b0b0" stroke-width="1"/>
<circle cx="90.5" cy="79" r="1.45" fill="#000"/>
<text x="102.46" y="81.5" font-size="8.7" stroke="#1c1c1c">Charge capacity at 0.05C</text>
<path d="M80.8 89.6h19" stroke="#f2dcdc" stroke-width="1"/>
<circle cx="90.5" cy="89.6" r="1.45" fill="#d0000c"/>
<text x="102.19" y="92.1" font-size="8.7" stroke="#1c1c1c">Discharge capacity at 0.05C</text>
<path d="M80.8 100.1h19" stroke="#b4b4d0" stroke-width="1"/>
<circle cx="90.5" cy="100.1" r="1.45" fill="#0c0cd0"/>
<text x="102.46" y="102.6" font-size="8.7" stroke="#1c1c1c">Coulombic efficiency</text>
<circle cx="370.2" cy="79" r="1.45" fill="#000"/>
<text x="382.06" y="81.5" font-size="8.7" stroke="#1c1c1c">Charge capacity at 0.1C</text>
<path d="M360.5 89.6h19" stroke="#f0d4d4" stroke-width="1"/>
<circle cx="370.2" cy="89.6" r="1.45" fill="#d0000c"/>
<text x="381.79" y="92.1" font-size="8.7" stroke="#1c1c1c">Discharge capacity at 0.1C</text>
<path d="M360.5 100.1h19" stroke="#9898b4" stroke-width="1"/>
<circle cx="370.2" cy="100.1" r="1.45" fill="#0c0cd0"/>
<text x="382.06" y="102.6" font-size="8.7" stroke="#1c1c1c">Coulombic efficiency</text>
</g>
</svg></body></html>
